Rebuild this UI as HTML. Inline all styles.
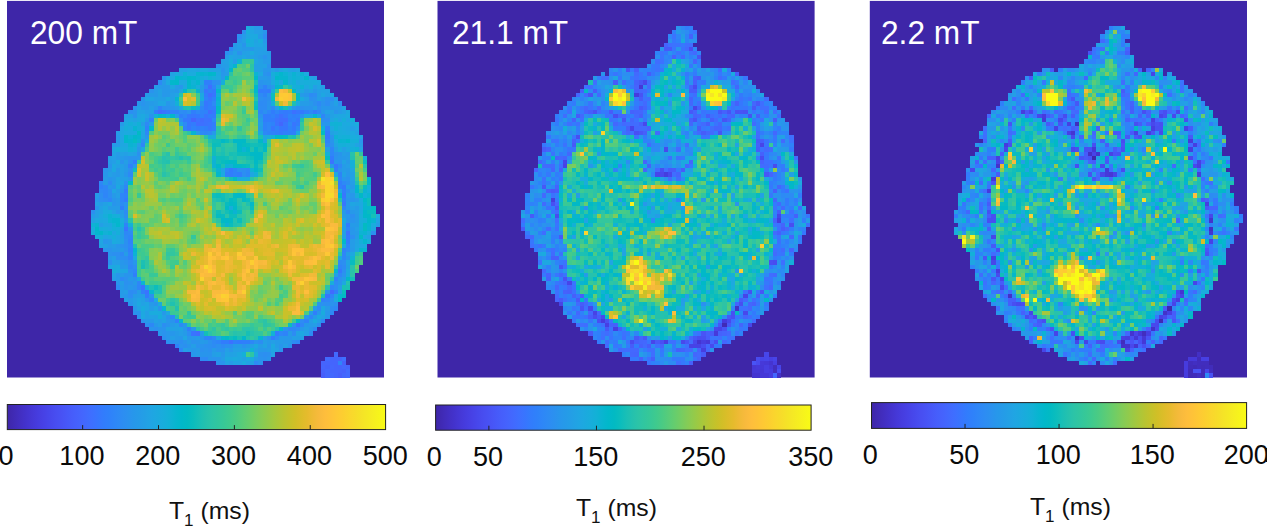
<!DOCTYPE html>
<html><head><meta charset="utf-8"><title>T1 maps</title>
<style>
html,body{margin:0;padding:0;background:#fff;}
body{width:1267px;height:526px;position:relative;overflow:hidden;font-family:"Liberation Sans",sans-serif;}
.pn{position:absolute;display:block;overflow:hidden;}
.ttl{position:absolute;color:#fff;white-space:nowrap;transform-origin:0 0;line-height:1;}
.tl{position:absolute;color:#0a0a0a;font-size:25px;line-height:1;white-space:nowrap;transform:translateX(-50%);}
.xl{position:absolute;color:#111;line-height:1;white-space:nowrap;transform-origin:0 0;}
.xl sub{font-size:69%;vertical-align:baseline;position:relative;top:0.41em;}
</style></head><body>
<svg class="pn" style="left:7px;top:0px;width:377px;height:378px" viewBox="-0.00000 -0.21508 90.00000 90.33457" preserveAspectRatio="none"><rect x="0" y="0" width="90" height="90" fill="#3e26a8"/><g transform="translate(0,0.5)" shape-rendering="crispEdges" fill="none" stroke-width="1"><path stroke="#465efb" d="M75 89h1"/><path stroke="#4660fb" d="M79 89h1"/><path stroke="#4562fc" d="M80 86h1M76 87h1M75 88h1M80 88h1"/><path stroke="#4564fd" d="M75 86h1M78 87h2M81 87h1M79 88h1"/><path stroke="#4465fd" d="M44 28h1M77 85h3M76 86h3M75 87h1M77 88h2M78 89h1"/><path stroke="#4367fd" d="M65 29h1M77 87h1M76 88h1M76 89h1M80 89h1"/><path stroke="#4368fe" d="M80 87h1M77 89h1"/><path stroke="#426afe" d="M76 85h1M81 89h1"/><path stroke="#416bfe" d="M77 69h1M78 84h1M81 88h1"/><path stroke="#406dfe" d="M36 26h1M46 28h1"/><path stroke="#3f6eff" d="M48 22h1M48 26h1M65 28h2M45 29h1M45 79h1"/><path stroke="#3e70ff" d="M48 20h1M46 29h1M80 85h1"/><path stroke="#3c71ff" d="M68 26h1M65 27h1M45 28h1M48 28h1M69 77h1M53 81h1"/><path stroke="#3b73fe" d="M47 28h1M64 28h1M47 29h1M64 29h1M77 38h1M81 55h1M33 69h1"/><path stroke="#3974fe" d="M37 26h1M32 68h1M76 70h1M44 79h1"/><path stroke="#3876fe" d="M47 21h1M47 27h1M48 29h1M66 29h1M68 29h1M80 46h1M80 48h1"/><path stroke="#3677fe" d="M49 22h1M48 23h1M47 24h1M49 26h1M69 26h1M44 27h1M43 28h1M43 29h1M43 30h1M48 30h1M63 30h1M65 30h2M76 32h1M28 54h1"/><path stroke="#3579fd" d="M49 21h1M66 27h1M69 28h1M65 31h1M78 39h1M81 56h1"/><path stroke="#337afd" d="M47 25h1M66 26h1M70 26h1M43 27h1M45 27h1M64 27h1M42 28h1M68 30h1M76 31h1M53 40h1M80 44h1M79 64h1"/><path stroke="#327cfc" d="M62 21h1M38 26h1M73 26h1M49 27h1M63 28h1M44 29h1M28 45h1M33 70h1M64 79h1M51 81h1"/><path stroke="#317dfc" d="M60 21h1M47 22h1M48 24h1M35 26h1M63 26h1M65 26h1M67 26h1M48 27h1M61 27h2M61 28h2M49 29h1M69 29h1M45 30h1M77 37h1M30 38h1M53 41h1M28 47h1M81 53h1M81 57h1M63 80h1M52 81h1M55 81h1"/><path stroke="#307ffb" d="M47 19h2M61 21h1M48 25h2M44 26h1M47 30h1M64 31h1M78 40h1M55 41h1M79 43h1M80 45h1M73 74h1M56 81h1"/><path stroke="#2f80fa" d="M48 21h1M41 27h1M68 27h1M67 28h1M49 30h1M66 31h3M52 41h1M80 47h1M27 49h1M30 65h1M32 69h1M78 69h1M43 78h1M54 81h1M57 81h1"/><path stroke="#2f82fa" d="M47 23h1M49 23h1M39 26h1M47 26h1M71 26h1M46 27h1M63 27h1M69 27h1M34 28h1M68 28h1M44 30h1M64 30h1M63 31h1M29 57h1M29 59h1M75 71h1M40 76h1M48 80h1M40 82h1"/><path stroke="#2e83f9" d="M61 20h1M40 26h1M61 29h1M63 29h1M33 30h1M42 30h1M46 30h1M61 30h1M67 30h1M76 30h1M76 33h1M29 39h1M54 40h1M54 41h1M22 44h1M79 44h1M28 46h1M78 66h1"/><path stroke="#2e84f8" d="M61 22h1M36 25h1M46 26h1M67 27h1M62 31h1M79 41h1M28 53h1M80 59h1M29 61h1M71 76h1M66 79h1M47 80h1M79 86h1"/><path stroke="#2e86f8" d="M49 20h1M64 26h1M62 29h1M77 36h1M79 42h1M23 46h1M27 46h1M27 47h1M29 56h1M29 58h1M81 58h1M29 60h1M80 60h1M79 63h1M31 68h1M77 70h1M34 71h1M50 81h1"/><path stroke="#2e87f7" d="M45 26h1M62 26h1M74 26h1M75 27h1M62 30h1M32 34h1M77 35h1M52 40h1M28 44h1M23 45h1M24 47h1M81 54h1M28 55h1M30 64h1M79 65h1M31 67h1M77 68h1M76 71h1M72 75h1M70 77h1M67 78h2M65 79h1M69 81h1M41 83h1"/><path stroke="#2d88f6" d="M46 25h1M60 26h1M42 27h1M67 29h1M47 31h1M61 31h1M57 41h1M22 43h1M23 44h1M80 49h1M81 50h1M80 61h1M29 63h1M78 73h1M75 76h1M34 77h1M73 78h1M58 81h1"/><path stroke="#2d8af5" d="M53 11h1M36 19h1M47 20h1M49 24h1M74 24h1M63 25h1M72 26h1M49 28h1M33 29h1M69 30h1M33 31h1M46 31h1M79 39h1M57 40h1M29 41h1M80 43h1M22 45h1M27 60h1M74 73h1M77 74h1M39 75h1M49 80h1M49 81h1M47 85h1"/><path stroke="#2d8bf4" d="M60 22h1M72 22h1M60 24h1M42 26h1M42 29h1M48 31h1M76 34h1M24 43h1M29 55h1M28 56h1M81 59h1M27 66h1M26 68h1M77 73h1M41 77h1M64 80h1M51 82h1M46 85h1M59 86h1"/><path stroke="#2d8cf3" d="M61 8h1M61 23h1M61 24h1M60 25h2M23 47h1M27 48h1M28 50h1M29 62h1M79 62h1M80 63h1M78 67h1M29 69h1M70 76h1M69 78h1M68 79h1M72 79h1M68 81h1M49 82h1"/><path stroke="#2c8ef2" d="M55 8h1M49 19h1M73 22h1M77 23h1M76 24h1M29 26h1M41 26h1M41 28h1M56 40h1M56 41h1M24 45h1M24 46h1M28 61h1M30 63h1M29 64h1M78 68h1M29 70h1M37 77h1M43 79h1M41 81h1M60 81h1"/><path stroke="#2c8ff1" d="M60 20h1M60 23h1M74 25h1M76 28h1M81 45h1M22 46h1M22 47h1M82 56h1M28 58h1M26 60h1M27 61h1M80 62h1M30 69h1M76 72h1M33 77h1M37 80h1M61 84h1"/><path stroke="#2b90f0" d="M52 12h1M62 17h1M62 23h1M76 23h1M79 24h1M69 25h1M61 26h1M29 38h1M29 40h1M55 40h1M28 43h1M81 43h1M20 50h1M28 51h1M82 51h1M28 57h1M25 60h1M26 61h1M24 62h1M80 64h1M78 72h1M74 77h1M35 78h1M38 81h2M42 82h1M48 82h1M52 82h2"/><path stroke="#2b91ef" d="M56 7h1M50 15h1M37 18h1M50 19h1M62 20h1M72 23h1M73 24h1M37 25h1M70 25h1M75 28h1M32 33h1M77 34h1M31 36h1M78 36h1M87 55h1M28 66h1M28 67h1M34 70h1M77 71h1M75 72h1M48 81h1M47 82h1M50 82h1M67 82h1M46 83h1M48 83h1M60 84h1M62 84h1M61 85h1"/><path stroke="#2a93ee" d="M55 12h1M61 13h1M62 15h1M34 21h1M62 22h1M73 23h1M62 24h1M75 24h1M30 25h1M38 25h1M43 26h1M60 27h1M70 27h1M81 42h1M28 48h1M28 49h1M27 58h1M28 59h1M24 60h1M29 67h1M77 72h1M30 74h1M31 75h1M32 76h1M37 79h1M62 80h1M44 81h1M59 81h1M41 82h1M45 82h1M56 82h1M50 83h1M65 83h1M49 85h1M60 85h1M50 86h1M60 86h1"/><path stroke="#2994ed" d="M61 7h1M61 17h1M60 19h1M32 24h1M71 25h2M30 26h1M30 27h1M34 27h1M84 33h1M29 37h2M78 37h1M27 38h1M79 38h1M23 40h1M79 40h1M25 44h1M27 45h1M81 47h1M82 52h1M23 59h2M28 62h1M29 65h1M80 65h1M79 66h1M28 68h1M30 68h1M33 71h1M31 74h1M39 76h1M38 77h1M68 77h1M37 78h1M66 78h1M40 81h1M42 81h1M46 82h1M47 83h1M51 83h1M48 84h1M50 85h1M51 86h1"/><path stroke="#2895ec" d="M56 10h1M51 16h1M32 23h1M46 24h1M62 25h1M78 26h1M76 29h1M77 32h1M77 33h1M79 36h1M24 39h1M24 42h1M25 47h1M82 47h1M25 48h1M21 49h1M81 52h1M81 61h1M28 65h1M30 66h1M26 67h1M79 67h1M76 69h1M29 72h1M35 72h1M74 72h1M36 73h1M38 75h1M34 78h1M36 78h1M72 78h1M46 80h1M45 81h1M43 82h1M65 82h1M46 84h2M48 85h1M62 85h1"/><path stroke="#2797eb" d="M55 9h1M61 9h1M61 16h2M61 19h1M71 22h1M75 23h1M38 24h1M35 25h1M68 25h1M75 25h3M76 27h1M33 32h1M28 37h1M31 37h1M79 37h1M78 38h1M23 41h1M28 41h1M80 42h1M21 47h1M81 49h1M81 51h1M29 54h1M82 54h1M23 57h1M26 58h1M27 62h1M30 62h1M26 65h1M28 70h1M74 74h1M76 74h1M76 75h1M42 77h1M36 79h1M38 79h2M38 80h1M41 80h1M43 80h1M44 83h1M44 84h1"/><path stroke="#2798ea" d="M60 6h1M58 11h1M53 12h1M51 17h1M62 18h1M41 20h1M37 22h1M31 24h1M72 24h1M77 24h1M33 25h1M39 25h1M75 26h1M75 29h1M26 32h1M30 39h1M81 41h1M29 42h1M24 44h1M82 46h1M26 48h1M81 48h1M26 50h1M80 50h1M28 52h1M82 55h1M26 59h1M29 68h1M30 73h1M38 76h1M42 78h1M44 80h1M66 80h2M66 81h1M62 82h1M53 83h1M61 83h1M51 84h1"/><path stroke="#2699e9" d="M64 16h1M62 19h1M37 20h1M37 21h2M40 21h1M73 21h1M38 22h1M33 24h1M32 25h1M78 25h2M33 28h1M26 33h1M31 35h1M80 37h1M26 40h1M26 41h1M25 42h1M26 47h1M82 50h1M83 52h1M25 59h1M27 63h1M26 66h1M29 66h1M29 71h1M37 74h1M71 75h1M33 76h2M35 77h1M71 77h1M44 78h1M70 78h1M40 80h1M65 80h1M47 81h1M67 81h1M45 83h1M60 83h1"/><path stroke="#269ae8" d="M59 6h1M54 10h1M56 11h1M62 12h1M61 14h1M36 20h1M38 20h1M63 20h1M46 21h1M35 22h1M27 29h1M84 34h1M26 37h1M81 38h1M28 39h1M81 40h1M23 42h1M23 43h1M25 43h1M27 44h1M82 44h1M25 46h1M81 46h1M83 47h1M83 51h1M24 58h1M27 59h1M82 59h1M24 61h1M28 63h1M30 67h1M27 70h1M34 72h1M76 73h1M67 79h1M57 82h1M49 83h1M45 84h1"/><path stroke="#259be8" d="M60 8h1M54 11h1M57 11h1M60 13h1M62 13h1M62 14h1M51 18h1M61 18h1M37 19h1M35 21h1M34 22h1M70 22h1M34 24h1M79 26h1M45 31h1M49 31h1M25 34h1M81 36h1M27 37h1M24 38h1M77 39h1M24 40h1M28 40h1M21 46h1M22 48h1M83 49h1M20 51h1M82 53h2M83 55h1M24 57h1M27 68h1M27 69h1M73 73h1M73 75h1M39 77h1M72 77h1M40 79h1M42 79h1M46 79h1M45 80h1M43 81h1M46 81h1M62 81h1M64 81h2M54 82h1M43 83h1M62 83h1M59 85h1"/><path stroke="#259ce7" d="M56 8h1M52 13h1M54 14h1M51 15h1M52 17h1M60 18h1M35 20h1M40 20h1M46 20h1M39 21h1M33 22h1M78 23h1M70 24h2M40 25h1M73 25h1M60 28h1M60 30h1M26 31h1M26 34h1M26 36h1M24 37h1M81 37h1M80 39h1M80 40h1M25 41h1M26 45h1M24 49h3M27 50h1M83 50h1M80 51h1M88 53h1M82 57h1M25 58h1M82 58h1M28 60h1M27 65h1M80 66h1M31 69h1M30 70h1M55 82h1M60 82h1M64 82h1M51 85h1M53 86h1"/><path stroke="#249ee6" d="M56 9h1M61 10h1M55 11h1M61 12h1M51 14h1M52 15h1M75 20h1M71 21h1M74 22h1M74 23h1M35 24h1M39 24h1M33 26h2M40 27h1M32 29h1M34 29h1M78 35h1M80 36h1M28 38h1M82 43h1M81 44h1M83 56h1M81 60h1M26 62h1M25 66h1M27 67h1M79 68h1M28 69h1M31 70h2M28 71h1M34 73h1M72 74h1M36 76h1M72 76h1M73 77h1M71 78h1M39 80h1M69 80h2M44 82h1M66 82h1M56 83h1M49 84h1"/><path stroke="#249fe6" d="M59 7h2M60 12h1M59 13h1M42 16h1M63 16h1M68 16h1M73 18h1M73 20h1M74 21h1M39 22h1M64 25h1M31 34h1M25 38h1M81 39h1M26 46h1M82 49h1M21 50h1M27 51h1M22 53h1M83 54h1M27 56h1M25 61h1M25 62h1M30 71h1M74 76h1M36 77h1M40 77h1M41 79h1M71 79h1M68 80h1M61 81h1M63 81h1M58 82h1M42 83h1M52 83h1"/><path stroke="#23a0e5" d="M55 10h1M59 11h2M56 12h1M57 13h1M60 14h1M52 16h1M76 22h1M35 23h1M37 23h1M34 25h1M80 26h1M28 27h1M60 29h1M82 30h1M80 35h1M28 36h1M25 37h1M27 39h1M27 40h1M24 41h1M27 41h1M27 42h2M21 48h1M21 51h1M80 54h1M27 55h1M80 55h1M30 72h1M33 74h1M61 80h1M54 83h2"/><path stroke="#22a1e4" d="M61 11h1M59 12h1M55 13h1M52 14h1M59 15h2M41 16h1M59 16h2M36 21h1M36 22h1M36 23h1M39 23h1M78 24h1M31 25h1M80 25h1M77 26h1M29 27h1M77 27h1M77 31h1M83 31h1M76 35h1M80 41h1M82 41h1M82 45h1M23 48h1M22 49h1M20 52h1M80 56h1M23 58h1M25 65h1M78 65h1M32 71h1M33 75h1M35 75h1M38 78h3M59 83h1M64 83h1M50 84h1M53 84h1M56 85h1M57 86h2"/><path stroke="#22a2e4" d="M54 12h1M57 12h1M54 13h1M58 13h1M61 15h1M48 16h3M65 16h1M67 16h1M39 17h1M72 21h1M75 21h2M71 23h1M31 26h2M76 26h1M41 29h1M84 32h1M27 36h1M30 36h1M26 39h1M82 42h1M22 50h1M25 50h1M88 52h1M86 56h1M27 57h1M81 63h1M79 69h1M32 72h1M31 73h1M34 75h1M37 75h1M35 76h1M69 79h1M57 83h1M63 84h1M52 86h1M55 86h1"/><path stroke="#21a3e3" d="M58 6h1M59 9h1M45 16h1M33 27h1M30 28h1M83 34h1M84 35h1M25 36h1M80 38h1M26 42h1M26 43h1M83 48h1M80 53h1M27 54h1M83 57h1M22 58h1M75 75h1M37 76h1M41 78h1M61 82h1M52 84h1M54 84h1M54 86h1"/><path stroke="#20a5e3" d="M58 7h1M59 10h1M69 16h1M41 17h1M38 18h1M72 18h1M40 22h1M33 23h1M37 24h1M78 27h1M28 28h1M79 28h1M81 28h1M27 30h1M83 30h1M27 32h1M32 32h1M27 33h1M29 36h1M51 40h1M27 43h1M25 45h1M79 45h1M23 56h1M83 58h1M81 62h1M24 63h1M78 70h1M31 71h1M42 80h1"/><path stroke="#1fa6e2" d="M60 10h1M53 13h1M56 13h1M59 14h1M43 16h1M46 19h1M50 20h1M74 20h1M34 23h1M36 24h1M31 27h1M77 28h1M32 31h1M69 31h1M78 34h1M25 35h1M82 40h1M58 41h1M82 48h1M84 49h1M23 53h1M22 57h1M27 64h2M33 72h1M33 73h1M35 73h1M63 83h1"/><path stroke="#1ea7e1" d="M57 8h1M44 16h1M41 21h1M75 22h1M72 27h1M79 27h2M29 28h1M82 29h1M27 31h1M78 31h1M61 32h1M27 34h1M25 39h1M78 41h1M24 48h1M23 49h1M22 51h1M87 54h1M26 56h1M75 73h1M70 79h1"/><path stroke="#1da8e0" d="M50 17h1M63 18h1M41 19h2M63 19h1M69 19h1M39 20h1M42 20h1M71 20h1M70 21h1M46 22h1M77 22h1M38 23h1M81 26h1M74 27h1M31 28h1M81 30h1M28 34h1M81 35h1M26 38h1M25 40h1M26 44h1M84 48h1M84 50h1M22 52h1M24 53h1M25 55h1M24 56h1M85 56h1M26 57h1M83 59h1M82 60h1M79 61h1M25 63h1M31 66h1M80 67h1M32 74h1M50 80h1M55 84h1M52 85h2M55 85h1"/><path stroke="#1da9e0" d="M58 8h1M46 16h1M60 17h1M71 17h1M38 19h1M65 19h1M32 27h1M80 29h1M77 30h1M82 31h1M61 33h1M88 51h1M21 52h1M23 52h1M80 52h1M84 58h2M26 64h1M81 64h1M31 72h1M38 74h1M32 75h1M59 82h1M63 82h1"/><path stroke="#1caadf" d="M59 8h1M58 12h1M47 16h1M66 16h1M39 18h1M50 18h1M74 19h1M67 25h1M71 27h1M32 28h1M28 29h1M80 30h1M28 31h2M60 31h1M81 31h1M32 35h1M79 35h1M51 41h1M55 42h1M24 54h1M30 61h1M26 63h1M35 71h1M78 71h1M74 75h1M73 76h1M59 84h1M56 86h1"/><path stroke="#1babde" d="M57 6h1M57 10h1M40 17h1M44 17h1M47 18h1M69 21h1M69 24h1M41 25h1M81 27h1M30 29h1M81 29h1M29 30h1M30 31h1M62 32h1M78 33h1M27 35h2M84 47h1M23 50h1M27 52h1M25 57h1M34 74h1M36 74h1M54 85h1M57 85h1"/><path stroke="#1aacdd" d="M58 9h1M60 9h1M58 10h1M53 14h1M43 17h1M46 23h1M70 23h1M83 29h1M32 30h1M80 31h1M49 32h1M82 32h2M82 34h1M56 42h2M24 50h1M87 53h1M20 54h1M80 58h1M81 65h1M32 73h1M35 74h1M75 74h1M58 85h1"/><path stroke="#19addb" d="M67 19h1M70 19h1M72 19h2M45 20h1M63 21h1M78 28h1M79 30h1M79 31h1M48 32h1M81 34h1M26 35h1M83 46h1M84 51h1M84 52h1M23 54h1M20 55h1M86 55h1M25 64h1M77 67h1M36 72h1"/><path stroke="#17aeda" d="M57 7h1M53 15h1M63 17h1M67 17h1M69 17h1M49 18h1M71 19h1M68 20h1M72 20h1M63 24h1M80 28h1M28 30h1M79 32h1M33 33h1M79 34h1M30 35h1M86 45h1M53 49h1M23 51h1M26 51h1M84 53h1M22 54h1M26 54h1M21 56h2M25 56h1M86 57h1M36 75h1"/><path stroke="#15afd9" d="M46 18h1M51 19h1M69 20h1M38 27h1M82 28h1M29 29h1M82 33h2M82 35h1M82 39h1M86 44h1M85 46h1M27 53h1M26 55h1M84 57h1M33 68h1"/><path stroke="#14b0d8" d="M57 9h1M67 18h1M70 18h1M50 22h1M40 24h1M31 30h1M63 32h1M80 32h2M80 34h1M85 37h1M82 38h1M59 41h1M25 51h1M85 52h1M29 53h1M25 54h1M84 54h1M56 84h1"/><path stroke="#12b1d6" d="M48 18h1M69 18h1M68 19h1M45 25h1M31 29h1M77 29h1M79 29h1M78 30h1M29 35h1M76 36h1M49 37h1M53 39h1M23 55h1M63 79h1"/><path stroke="#10b2d5" d="M44 19h1M64 19h1M35 27h1M78 29h1M75 30h1M30 34h1M83 35h1M58 40h1M20 53h1M25 53h1M82 61h1M58 83h1"/><path stroke="#0db3d4" d="M55 14h1M42 17h1M59 17h1M64 17h1M66 17h1M45 18h1M68 18h1M70 20h1M50 24h1M29 32h1M78 32h1M56 35h1M49 38h1M49 39h1M52 39h1M24 52h1M84 55h1M30 60h1"/><path stroke="#0bb3d2" d="M47 17h1M68 17h1M70 17h1M42 18h1M44 20h1M31 33h1M80 33h1M29 34h1M50 40h1M85 45h1M86 46h1M54 50h1M24 51h1M21 53h1M52 53h1M24 55h1M85 55h1M32 67h1"/><path stroke="#08b4d1" d="M45 17h1M41 18h1M50 23h1M30 30h1M44 31h1M79 33h1M85 48h1M87 52h1M86 54h1M85 59h1M34 69h1"/><path stroke="#06b5cf" d="M46 17h1M66 18h1M45 21h1M40 23h1M37 27h1M31 32h1M85 49h2M25 52h1M85 57h1M30 59h1M78 64h1M79 70h1M37 73h1M60 80h1"/><path stroke="#05b6ce" d="M54 15h1M65 18h1M45 19h1M73 27h1M29 33h1M26 52h1M86 53h1M21 55h1M84 59h1M41 76h1M51 80h1"/><path stroke="#03b7cc" d="M49 17h1M65 17h1M40 18h1M44 18h1M39 19h1M66 19h1M43 20h1M64 20h1M50 21h1M59 21h1M65 25h1M81 33h1M83 44h1M26 53h1M80 57h1"/><path stroke="#02b7ca" d="M53 16h1M48 17h1M52 18h1M71 18h1M43 19h1M59 20h1M42 21h1M69 23h1M36 27h1M39 27h1M28 32h1M30 32h1M28 33h1M59 40h1M50 41h1M83 45h1M55 46h1M85 50h1M86 52h1M22 55h1M81 66h1M56 80h1"/><path stroke="#01b8c9" d="M43 18h1M64 18h1M40 19h1M34 30h1M54 33h1M55 34h1M60 36h1M50 39h1M54 39h1M86 42h1M86 43h1M79 46h1M58 48h1M54 49h1M85 51h1M52 52h1M21 54h1M65 78h1"/><path stroke="#01b9c7" d="M59 18h1M65 32h1M51 33h1M55 33h1M55 35h1M57 35h1M61 35h1M58 36h1M53 38h1M55 39h1M56 46h1M85 47h1M52 49h1M87 49h1M51 52h1M52 80h1"/><path stroke="#01b9c6" d="M64 32h1M56 33h1M60 33h1M61 34h1M59 36h1M59 37h2M59 38h1M84 46h1M53 48h1M86 51h1M79 71h1M69 76h1"/><path stroke="#02bac4" d="M68 21h1M69 22h1M31 31h1M59 35h1M54 38h1M54 46h1M56 47h1M53 52h1M84 56h1M80 70h1"/><path stroke="#03bbc2" d="M50 25h1M52 38h1M29 43h1M53 47h1M54 48h1M53 50h1M85 53h1"/><path stroke="#05bbc1" d="M65 20h1M50 26h1M75 31h1M66 32h1M30 33h1M56 34h1M76 37h1M56 39h1M59 39h1M54 42h1M50 51h1M85 54h1M54 80h1"/><path stroke="#08bcbf" d="M59 25h1M57 34h1M57 36h1M51 38h1M85 38h1M85 44h1M52 48h1M58 49h1M86 50h2M51 51h1M82 62h1M67 77h1"/><path stroke="#0abdbd" d="M63 23h1M52 33h1M49 34h1M55 36h2M57 39h1M50 46h1M54 47h1M57 47h1M55 50h1M55 52h1M53 53h1M80 69h1"/><path stroke="#0dbdbc" d="M63 22h1M59 24h1M44 25h1M50 34h1M60 34h1M50 37h2M51 47h1M86 47h1M86 48h1M50 50h1M53 51h2M35 68h1"/><path stroke="#10beba" d="M50 33h1M49 35h1M49 36h1M58 37h1M30 40h1M60 40h1M49 46h1M51 46h1M51 53h1M53 80h1"/><path stroke="#13beb8" d="M59 22h1M66 25h1M49 33h1M58 34h2M52 37h1M50 38h1M60 38h1M52 50h1M82 66h1M47 79h1"/><path stroke="#17bfb6" d="M60 35h1M53 36h1M57 37h1M53 42h1M87 51h1M32 63h1M57 79h1"/><path stroke="#1ac0b5" d="M59 19h1M67 20h1M60 32h1M68 32h1M51 36h1M54 36h1M54 37h1M51 39h1M80 68h2M75 70h1M55 80h1"/><path stroke="#1dc0b3" d="M68 24h1M42 25h1M70 28h1M58 38h1M50 47h1M52 47h1M55 49h1M32 62h1"/><path stroke="#20c1b1" d="M51 35h1M41 37h1M49 40h1M57 48h1M54 53h1M34 68h1M39 72h1M40 75h1"/><path stroke="#22c1af" d="M43 25h1M67 32h1M48 33h1M53 33h1M57 33h1M58 35h1M50 36h1M82 37h1M38 38h1M57 38h1M83 43h1M52 46h1M58 50h1M30 58h1M36 68h1M36 69h1M40 73h1"/><path stroke="#25c2ae" d="M59 33h1M54 34h1M37 37h1M53 37h1M56 37h1M37 38h1M85 39h1M79 47h1M54 52h1M55 53h1M31 54h1M81 67h1M35 69h1M43 77h1M64 78h1M57 80h1"/><path stroke="#27c2ac" d="M41 22h1M59 23h1M54 35h1M38 36h1M82 36h1M58 39h1M60 39h1M37 41h1M60 41h1M84 45h1M49 47h1M55 48h1M51 50h1M83 60h1M54 79h1M58 79h1"/><path stroke="#29c3aa" d="M50 31h1M47 32h1M58 33h1M51 34h1M43 37h1M55 37h1M55 47h1M29 52h1M82 63h1M82 64h1M76 68h1M57 78h1M59 80h1"/><path stroke="#2bc3a8" d="M43 21h1M50 30h1M43 31h1M53 46h1M49 51h1M52 51h1M55 51h1M82 65h1M61 76h1M61 77h1M45 78h1M56 78h1M48 79h1M55 79h1"/><path stroke="#2cc4a6" d="M58 15h1M53 17h1M53 35h1M52 36h1M38 37h1M58 42h1M70 44h1M58 47h1M50 52h1M33 62h1M39 71h1"/><path stroke="#2ec4a4" d="M58 16h1M56 32h1M40 37h1M56 38h1M57 46h1M51 48h1M56 49h1M49 50h1M49 78h1M56 79h1"/><path stroke="#2fc5a3" d="M50 27h1M50 35h1M52 35h1M36 38h1M37 39h1M79 60h1M33 63h1M59 79h1M58 84h1"/><path stroke="#30c5a1" d="M55 30h1M33 34h1M61 36h1M84 36h1M42 37h1M70 39h1M77 40h1M49 48h1M38 60h1M43 74h1M62 77h1M52 78h1M58 78h1M53 79h1"/><path stroke="#32c69f" d="M70 30h1M52 34h1M40 36h1M37 40h1M38 41h1M52 42h1M49 49h1M57 49h1M56 52h1M44 56h1M39 60h1M33 61h1M77 66h1M38 72h1M40 72h1M60 79h1"/><path stroke="#33c79d" d="M70 29h1M50 32h1M39 37h1M48 37h1M48 38h1M55 38h1M56 51h1M31 56h1M60 76h1M62 79h1M58 80h1"/><path stroke="#35c79b" d="M52 20h1M66 20h1M44 21h1M53 21h1M41 24h1M55 32h1M48 34h1M53 34h1M37 36h1M56 48h1M51 49h1M39 59h1M78 63h1M51 77h1M58 77h1"/><path stroke="#36c899" d="M56 26h1M57 28h1M36 37h1M43 38h1M83 42h1M31 55h1M31 59h1M84 60h1M38 61h1M34 65h1M43 75h1M51 78h1M54 78h1M61 78h1M49 79h1"/><path stroke="#38c896" d="M56 14h3M54 19h1M61 37h1M31 38h1M76 38h1M69 39h1M39 40h1M69 44h1M31 46h1M31 53h1M31 64h1M35 65h1M40 71h1M39 74h1M63 77h1M59 78h1"/><path stroke="#3ac994" d="M51 20h1M53 20h1M64 21h1M45 22h1M51 32h2M38 34h1M62 34h1M41 41h1M56 50h1M41 51h1M32 54h1M38 59h1M39 63h1M31 65h1M74 71h1M44 75h1M48 78h1"/><path stroke="#3cc992" d="M45 24h1M68 39h1M35 40h1M40 42h1M58 46h1M32 60h1M40 60h1M32 61h1M31 62h1M40 62h1M34 67h1M40 74h1"/><path stroke="#3eca90" d="M51 31h1M40 35h1M35 38h1M39 38h1M36 39h1M38 39h1M85 40h1M69 41h1M73 41h1M84 44h1M49 52h1M56 53h1M83 61h1M35 67h1M65 68h1M35 70h1M68 76h1M50 77h1M57 77h1M53 78h1M55 78h1M63 78h1"/><path stroke="#40ca8d" d="M53 18h2M50 28h1M42 31h1M40 38h1M61 38h1M34 39h1M47 39h1M38 40h1M39 42h1M43 42h1M78 42h1M71 43h1M32 59h1M31 60h1M39 62h1M83 62h1M31 63h1M32 66h1M37 67h1M65 70h1M38 71h1M42 75h1M62 76h1M48 77h1M56 77h1M59 77h1M50 79h1"/><path stroke="#42ca8b" d="M45 23h1M56 25h1M52 30h2M57 32h1M62 33h1M41 36h1M35 37h1M41 38h1M40 39h1M36 41h1M39 41h1M59 42h1M30 54h1M32 56h1M39 73h1M60 77h1M46 78h1"/><path stroke="#45cb89" d="M57 29h1M47 38h1M41 40h1M37 42h1M50 48h1M61 48h1M50 49h1M58 51h1M57 52h1M50 53h1M32 55h1M30 56h1M33 60h1M34 63h1M33 64h1M36 67h1M36 70h1M64 72h1M57 84h1"/><path stroke="#48cb86" d="M56 15h1M55 18h1M52 19h2M55 19h1M58 21h1M55 31h1M69 32h1M75 32h1M34 36h1M42 36h1M48 36h1M35 39h1M48 39h1M71 39h1M42 41h1M49 41h1M38 42h1M69 43h1M57 50h1M57 51h1M41 52h1M84 61h1M34 64h1M83 64h1M66 69h1M49 76h1"/><path stroke="#4bcb84" d="M54 20h1M40 28h1M54 32h1M33 35h1M47 37h1M42 38h1M36 40h1M69 40h2M36 42h1M68 43h1M29 47h1M37 47h1M42 51h1M30 53h1M33 56h1M44 57h1M32 58h2M31 61h1M34 66h1M65 71h1M73 72h1M38 73h1M71 74h1M60 75h1M59 76h1M49 77h1M52 77h1M55 77h1M50 78h1"/><path stroke="#4ecc81" d="M57 16h1M41 23h1M56 29h1M42 32h1M71 38h1M48 40h1M40 41h1M43 41h1M70 41h1M83 41h1M69 42h1M85 43h1M39 47h3M31 57h1M34 58h1M33 59h1M40 59h1M79 59h1M39 61h1M42 62h1M62 72h1M57 75h1M52 79h1M61 79h1"/><path stroke="#51cc7f" d="M55 15h1M56 16h1M55 17h1M58 17h1M56 27h1M56 30h1M56 31h1M42 33h1M47 33h1M34 40h1M40 40h1M71 40h1M73 42h1M29 44h1M40 51h1M30 57h1M38 62h1M84 62h1M37 68h1M37 69h1M66 70h1M63 76h1M45 77h1"/><path stroke="#54cc7c" d="M59 26h1M34 31h1M37 32h1M75 33h1M37 35h1M43 35h1M32 36h1M34 37h1M70 38h1M39 39h1M43 39h1M83 39h1M50 42h1M72 42h1M29 46h1M45 47h1M33 53h1M53 54h1M37 70h1M64 71h1M57 74h2M52 76h1M60 78h1M62 78h1"/><path stroke="#57cc7a" d="M56 18h3M54 21h1M57 27h1M59 27h1M41 30h1M59 31h1M48 35h1M35 36h1M46 39h1M72 39h1M72 41h1M71 42h1M36 47h1M79 48h1M46 49h1M32 50h1M41 50h1M42 52h1M41 53h1M37 61h1M34 62h1M32 64h1M33 66h1M38 66h1M54 74h1M58 75h1"/><path stroke="#5acc77" d="M54 16h1M64 24h1M56 28h1M52 31h1M53 32h1M39 33h1M43 34h1M41 35h1M43 40h1M72 40h1M35 43h1M50 45h1M65 49h1M32 53h1M30 55h1M38 58h2M40 61h1M32 65h1M37 66h1M33 67h1M41 72h1M72 73h1M42 76h1M64 77h1M47 78h1M51 79h1"/><path stroke="#5ecc74" d="M54 17h1M51 21h1M51 30h1M54 30h1M46 32h1M59 32h1M39 34h1M39 36h1M62 36h1M44 38h1M72 38h1M41 39h1M35 41h1M71 41h1M42 42h1M38 43h1M31 44h1M36 44h1M71 44h1M29 45h1M38 47h1M40 48h1M31 50h1M29 51h1M35 51h1M34 52h2M32 57h1M43 57h1M36 58h1M33 65h1M77 65h1M35 66h2M39 66h1M38 67h1M75 69h1M37 72h1M42 73h1M41 74h1M58 76h1"/><path stroke="#61cd72" d="M52 24h1M55 25h1M55 26h1M55 27h1M58 28h1M50 29h1M53 29h1M54 31h1M37 33h1M47 34h1M38 35h2M62 35h1M36 36h1M83 37h1M46 38h1M42 39h1M66 39h1M42 40h1M47 40h1M68 40h1M30 41h1M51 42h1M49 43h1M64 43h1M70 43h1M60 46h1M46 48h1M72 48h2M41 49h1M51 54h1M54 54h1M58 55h1M42 63h1M61 67h1M60 69h1M42 74h1M43 76h1M45 76h1"/><path stroke="#64cd6f" d="M57 19h1M52 21h1M57 30h1M38 32h1M41 32h1M44 34h1M44 36h1M83 38h1M49 42h1M65 43h1M47 44h1M31 45h1M41 46h1M29 48h1M37 48h1M41 48h1M45 48h1M59 48h1M73 49h1M29 50h1M67 50h1M73 50h1M34 53h1M52 54h1M31 58h1M35 58h1M37 60h1M66 68h1M61 75h1M47 76h1M44 77h1M46 77h1"/><path stroke="#67cd6c" d="M55 16h1M56 17h1M36 33h1M46 33h1M36 34h1M42 35h1M47 36h1M73 36h1M34 38h1M74 41h1M72 43h1M35 44h1M42 45h1M70 45h2M39 46h1M67 48h1M66 49h1M36 51h1M43 51h1M42 53h1M45 55h1M45 57h1M35 64h1M39 64h1M40 66h1M76 66h1M65 69h1M37 71h1M56 74h1M56 75h1"/><path stroke="#6bcd69" d="M35 28h1M55 28h1M59 29h1M41 31h1M36 35h1M43 36h1M84 37h1M68 38h1M44 42h1M47 43h1M84 43h1M37 44h1M68 44h1M55 45h1M42 46h1M44 46h1M67 47h1M39 48h1M71 49h1M64 51h1M36 52h1M44 55h1M40 58h1M38 63h1M41 63h1M39 65h1M39 67h1M60 68h1M60 70h1M36 71h1M59 71h1M41 73h1M63 75h1M48 76h1"/><path stroke="#6ecd66" d="M57 15h1M55 20h1M53 24h1M59 28h1M53 31h1M40 34h2M44 37h1M84 38h1M61 39h1M61 41h1M85 41h1M41 42h1M60 42h1M30 44h1M72 44h1M32 46h1M32 47h1M34 49h1M36 49h1M62 49h1M39 52h1M43 56h1M34 57h1M83 63h1M76 65h1M61 69h1M62 71h1M43 72h1M44 74h1M62 75h1M56 76h1M64 76h2"/><path stroke="#72cd64" d="M57 17h1M58 19h1M55 29h1M36 31h1M70 31h1M38 33h1M41 33h1M43 33h2M35 34h1M42 34h1M83 36h1M45 38h1M83 40h1M48 42h1M65 42h1M44 43h1M67 43h1M73 43h1M41 45h1M36 46h2M40 46h1M30 47h1M66 48h1M70 49h1M35 50h1M64 50h1M66 50h1M37 53h1M45 56h1M33 57h1M64 66h1M39 70h1M59 70h1M42 72h1M63 72h1M65 72h1M60 74h1M54 75h1M70 75h1M54 77h1M65 77h1"/><path stroke="#76cc61" d="M58 20h1M58 22h1M71 30h1M38 31h1M37 34h1M45 36h1M67 39h1M70 42h1M37 43h1M43 43h1M69 45h1M38 48h1M59 49h1M33 50h1M40 50h1M62 50h1M72 50h1M31 52h1M39 53h1M41 54h1M36 57h1M43 58h1M37 59h1M36 65h2M62 66h1M64 68h1M67 68h1M43 73h1M55 75h1M55 76h1"/><path stroke="#79cc5e" d="M51 25h1M38 28h1M37 31h1M72 34h1M62 37h1M69 38h1M61 40h1M66 42h2M85 42h1M44 45h1M46 45h1M49 45h1M31 47h1M48 48h1M65 50h1M43 52h1M40 54h1M79 56h1M35 57h1M41 57h1M41 61h1M62 67h1M65 67h1M76 67h1M61 68h1M41 71h1M41 75h1M47 77h1M66 77h1"/><path stroke="#7dcc5b" d="M54 26h1M40 32h1M71 33h1M45 34h1M35 35h1M44 35h1M45 37h1M35 42h1M61 42h1M68 42h1M51 43h1M66 43h1M38 44h1M42 44h1M43 45h1M68 45h1M30 46h1M42 47h1M62 48h1M38 49h1M67 49h1M63 50h1M32 51h1M39 51h1M40 52h1M36 53h1M33 54h1M58 54h1M43 55h1M41 62h1M35 63h1M42 65h1M41 66h1M61 66h1M62 68h1M58 69h1M47 75h1"/><path stroke="#81cc59" d="M55 21h1M57 21h1M53 23h1M58 27h1M59 30h1M71 32h1M74 35h1M46 37h1M33 38h1M46 40h1M66 40h1M73 40h1M31 43h1M36 43h1M48 43h1M30 45h1M56 45h1M46 47h1M61 47h1M72 47h1M31 48h1M72 49h1M34 50h1M39 50h1M68 50h1M32 52h1M58 52h1M38 53h1M45 54h1M33 55h1M37 58h1M43 63h1M42 64h1M64 67h1M41 69h1M38 70h1M58 70h1M63 71h1M59 74h1M51 76h1M57 76h1M53 77h1"/><path stroke="#84cc56" d="M54 23h1M51 24h1M55 24h1M39 28h1M52 29h1M58 32h1M47 35h1M71 36h1M33 37h1M72 37h1M76 39h1M44 40h1M68 41h1M31 42h1M56 43h1M61 43h1M41 44h1M36 45h1M46 46h1M48 46h1M45 49h1M36 50h1M48 50h1M70 50h1M33 51h2M66 51h1M35 53h1M40 53h1M42 54h1M79 57h1M34 59h1M36 59h1M41 59h1M34 61h1M37 62h1M43 62h1M78 62h1M38 68h1M60 71h1M61 72h1M45 74h1M67 76h1"/><path stroke="#88cb53" d="M52 25h1M57 25h1M71 28h1M35 30h1M57 31h1M40 33h1M67 33h1M75 34h1M46 36h1M72 36h1M42 43h1M67 44h1M48 47h1M59 47h1M73 47h1M29 49h1M39 49h1M38 50h1M42 50h2M30 52h1M43 54h2M42 55h1M42 56h1M47 56h1M49 56h1M36 64h1M38 65h1M67 67h1M40 69h1M67 69h1M46 76h1M53 76h1"/><path stroke="#8bcb51" d="M57 20h1M44 22h1M51 22h1M53 22h1M54 25h1M35 29h1M35 31h1M39 32h1M43 32h1M45 32h1M72 32h1M35 33h1M45 33h1M72 35h2M75 36h1M44 39h1M65 39h1M74 40h1M84 40h1M34 43h1M37 45h1M54 45h1M72 46h1M60 47h1M32 48h1M71 48h1M31 49h1M33 49h1M30 50h1M79 50h1M33 52h1M65 52h1M45 53h1M39 54h1M55 54h1M57 54h1M70 54h1M42 57h1M46 57h1M41 58h1M34 60h2M41 65h1M42 66h1M59 69h1M62 69h1M61 73h1M61 74h1M46 75h1M48 75h1M44 76h1M50 76h1"/><path stroke="#8fcb4e" d="M51 23h1M67 24h1M53 25h1M53 26h1M54 28h1M54 29h1M58 29h1M36 32h1M44 32h1M34 35h1M33 36h1M71 37h1M67 41h1M39 43h1M73 44h1M32 45h1M73 45h1M38 46h1M42 48h1M44 48h1M30 49h1M37 49h1M68 49h1M74 49h1M63 51h1M68 51h1M48 52h1M46 55h1M35 59h1M37 63h1M60 65h1M62 65h1M43 66h1M39 69h1M61 70h1M67 70h1M44 73h1M59 73h1M65 73h1M64 74h1M68 75h1"/><path stroke="#93ca4b" d="M56 20h1M52 23h1M58 24h1M58 25h1M72 28h1M74 29h1M37 30h1M39 30h1M58 30h1M71 31h1M68 33h1M70 33h1M34 34h1M69 36h1M62 40h1M65 40h1M48 41h1M32 42h1M63 42h1M32 43h1M50 43h1M55 43h1M57 43h1M33 44h1M44 44h1M46 44h1M38 45h1M43 46h1M45 46h1M30 48h1M65 48h1M70 48h1M32 49h1M35 49h1M61 49h1M44 51h1M62 52h1M64 52h1M64 53h1M72 54h1M58 56h1M40 57h1M57 57h1M38 64h1M61 65h1M53 66h1M63 66h1M41 67h1M75 68h1M64 69h1M62 70h1M64 70h1M58 71h1M67 71h1M59 72h1M64 73h1M52 74h1M59 75h1"/><path stroke="#96ca48" d="M71 29h1M69 33h1M66 34h1M71 34h1M69 37h1M73 39h1M44 41h1M47 41h1M64 44h1M72 45h1M47 46h1M33 47h1M63 47h1M36 48h1M60 48h1M79 49h1M62 51h1M70 51h1M63 52h1M68 52h1M65 53h1M34 56h1M48 56h1M39 57h1M44 58h2M35 61h1M64 64h1M43 65h1M59 68h1M38 69h1M40 70h1M63 70h1M58 73h1M53 74h1M45 75h1"/><path stroke="#9ac946" d="M52 26h1M74 28h1M39 31h1M65 33h1M45 35h1M67 38h1M32 41h1M62 41h1M62 43h1M35 45h1M44 47h1M35 48h1M68 48h1M40 49h1M63 49h1M71 50h1M69 54h1M71 54h1M70 56h1M48 57h1M73 57h1M46 58h1M42 59h1M36 62h1M36 63h1M65 66h1M44 67h1M53 67h1M41 68h1M63 68h1M63 69h1M74 70h1M66 71h1M46 74h1"/><path stroke="#9dc943" d="M56 21h1M55 23h1M51 26h1M57 26h1M34 32h1M70 32h1M67 34h1M71 35h1M66 36h1M70 36h1M45 39h1M30 42h1M33 43h1M63 43h1M40 44h1M68 46h1M66 47h1M34 48h1M47 48h1M74 48h1M43 49h1M46 50h1M31 51h1M46 51h1M65 51h1M69 51h1M46 54h1M59 54h1M64 54h1M57 55h1M70 55h1M40 67h1M42 68h1M41 70h1M42 71h1M60 72h1M57 73h1M62 73h1"/><path stroke="#a1c840" d="M54 27h1M34 33h1M46 34h1M74 36h1M67 37h1M67 40h1M66 41h1M34 42h1M30 43h1M41 43h1M46 43h1M54 43h1M78 43h1M43 44h1M65 44h1M40 45h1M62 47h1M33 48h1M44 49h1M64 49h1M69 49h1M67 51h1M44 52h1M48 53h1M35 54h1M64 55h1M64 56h1M69 56h1M52 57h1M74 57h1M78 61h1M40 65h1M66 67h1M39 68h1M58 68h1M73 71h1M65 74h1"/><path stroke="#a4c83e" d="M56 19h1M53 28h1M73 32h1M66 33h1M75 35h1M46 41h1M47 42h1M58 43h1M52 45h1M61 46h1M70 47h1M47 49h1M43 53h1M37 55h1M55 55h1M68 56h1M38 57h1M47 57h1M79 58h1M41 60h1M75 64h1M40 68h1M74 69h1M61 71h1M63 73h1M55 74h1M53 75h1"/><path stroke="#a7c73c" d="M55 22h1M57 22h1M68 22h1M74 31h1M73 37h2M32 40h1M64 42h1M45 43h1M60 43h1M34 44h1M66 44h1M45 45h1M66 46h1M34 47h1M43 47h1M60 49h1M38 51h1M45 51h1M48 51h1M71 51h1M79 51h1M46 53h1M61 53h1M62 54h1M38 55h1M41 55h1M72 55h1M41 56h1M54 56h1M73 56h1M37 57h1M42 58h1M41 64h1M43 64h1M63 65h1M74 65h1M66 66h1M51 74h1"/><path stroke="#abc739" d="M54 22h1M58 23h1M68 23h1M58 26h1M66 35h1M64 36h2M63 40h1M45 42h1M62 42h1M74 42h1M53 43h1M48 44h1M63 44h1M65 47h1M71 47h1M64 48h1M42 49h1M59 50h1M57 53h1M62 53h1M70 53h1M38 54h1M56 54h1M49 55h1M54 55h1M63 56h1M53 57h1M40 64h1M72 71h1M58 72h1M66 72h1M52 75h1"/><path stroke="#aec637" d="M52 22h1M38 29h3M72 30h1M40 31h1M58 31h1M35 32h1M70 37h1M63 38h1M33 40h1M34 41h1M64 41h1M84 41h1M45 44h1M67 45h1M33 46h1M35 46h1M73 46h1M68 47h1M63 48h1M45 50h1M47 52h1M67 52h1M47 53h1M72 53h1M36 54h1M48 54h1M63 54h1M35 56h1M46 56h1M36 60h1M36 61h1M44 61h1M35 62h1M65 62h1M63 64h1M76 64h1M53 65h1M72 72h1M62 74h1M50 75h1M64 75h2M69 75h1M66 76h1"/><path stroke="#b1c635" d="M56 24h1M38 30h1M74 32h1M73 34h1M46 35h1M65 35h1M67 36h1M63 37h1M63 39h1M45 40h1M45 41h1M52 43h1M61 44h2M39 45h1M60 45h1M69 46h1M35 47h1M37 50h1M69 50h1M72 51h1M58 53h1M68 53h1M34 54h1M37 54h1M74 54h2M47 55h1M59 55h1M74 56h1M69 57h1M53 58h1M37 64h1M60 64h1M64 65h2M74 66h1M54 67h1M54 68h1M68 71h1M70 73h1M48 74h1M67 75h1M54 76h1"/><path stroke="#b5c533" d="M56 22h1M64 22h1M44 24h1M65 37h2M66 38h1M33 39h1M62 39h1M84 39h1M32 44h1M39 44h1M53 45h1M66 45h1M62 46h1M64 46h1M67 46h1M71 46h1M44 50h1M61 51h1M61 52h1M71 52h1M44 53h1M71 53h1M68 54h1M34 55h1M38 56h2M49 58h1M56 58h1M46 59h1M40 63h1M77 63h1M44 65h1M60 66h1M60 67h1M63 67h1M42 69h1M49 75h1"/><path stroke="#b8c431" d="M54 24h1M37 28h1M37 29h1M73 29h1M36 30h1M72 31h2M73 33h1M65 34h1M63 36h1M75 37h1M84 42h1M40 43h1M49 44h1M51 45h1M61 54h1M65 54h1M63 55h1M67 55h1M69 55h1M71 55h1M36 56h1M56 56h1M67 56h1M72 56h1M49 57h1M56 57h1M71 57h1M51 58h1M64 60h1M44 62h1M77 64h1M75 65h1M44 66h1M68 69h1M57 72h1M71 72h1M55 73h1"/><path stroke="#bbc42f" d="M67 21h1M57 24h1M73 28h1M36 29h1M40 30h1M70 34h1M67 35h1M70 35h1M68 36h1M31 39h1M64 39h1M74 39h1M65 41h1M34 45h1M48 45h1M34 46h1M74 47h1M69 48h1M74 50h1M46 52h1M66 52h1M73 52h1M66 53h1M73 54h1M35 55h1M51 57h1M43 60h1M65 60h1M64 61h1M75 63h1M49 66h1M43 67h1M74 68h1M71 73h1"/><path stroke="#bec32e" d="M74 30h1M64 33h1M72 33h1M68 34h1M63 35h2M68 35h1M68 37h1M73 38h1M32 39h1M75 40h1M33 45h1M65 45h1M74 45h1M43 48h1M73 51h1M59 53h1M74 53h1M47 54h1M39 55h1M56 55h1M37 56h1M71 56h1M63 57h1M45 59h1M77 62h1M63 63h1M70 64h2M75 67h1M42 70h1M50 73h2M51 75h1"/><path stroke="#c1c32c" d="M63 33h1M63 34h1M69 34h1M32 37h1M47 45h1M63 46h1M64 47h1M48 49h1M78 50h1M72 52h1M50 54h1M60 54h1M79 54h1M40 55h1M48 55h1M79 55h1M50 56h1M53 56h1M65 56h1M64 57h2M71 58h1M64 63h1M72 64h1M54 65h1M66 65h1M54 66h1M47 69h1M57 70h1M70 70h1M49 71h1M44 72h1M46 73h1M47 74h1"/><path stroke="#c5c22a" d="M36 28h1M72 29h1M69 35h1M62 38h1M46 42h1M53 44h2M65 46h1M47 50h1M59 51h1M49 53h1M63 53h1M67 53h1M66 54h1M36 55h1M65 55h1M73 55h2M40 56h1M72 57h1M55 58h1M70 58h1M42 61h2M45 61h1M65 61h1M75 66h1M42 67h1M59 67h1M44 68h1M47 70h1M48 72h1M56 72h1M60 73h1M50 74h1M63 74h1"/><path stroke="#c8c129" d="M64 38h1M75 39h1M64 40h1M59 43h1M61 50h1M47 51h1M51 56h1M66 57h1M54 58h1M65 58h1M59 59h1M60 61h1M58 64h1M69 65h1M67 66h1M46 67h1M46 69h1M57 71h1M46 72h1M70 72h1M49 74h1"/><path stroke="#cac129" d="M65 38h1M74 38h1M63 41h1M55 44h1M78 44h1M61 45h1M37 52h1M60 53h1M55 56h1M59 57h1M67 57h1M70 57h1M52 58h1M43 59h1M46 60h1M66 60h1M65 63h1M52 65h1M68 67h1M73 67h1M57 69h1M68 70h1M73 70h1M49 72h1M45 73h1M54 73h1M56 73h1M66 74h2M66 75h1"/><path stroke="#cdc028" d="M42 22h1M43 24h1M74 34h1M64 37h1M33 41h1M33 42h1M47 47h1M75 49h1M69 53h1M60 55h1M78 57h1M66 58h1M54 59h1M64 59h1M42 60h1M61 61h1M45 63h1M70 63h1M73 63h1M62 64h1M68 65h1M52 66h1M48 70h1M46 71h1M66 73h1"/><path stroke="#d0bf27" d="M57 23h1M65 24h1M53 27h1M60 44h1M57 45h1M62 45h1M69 47h1M60 52h1M69 52h1M44 59h1M65 59h1M78 59h1M63 62h1M44 63h1M61 64h1M45 66h1M72 67h1M74 67h1M54 69h1M67 72h1"/><path stroke="#d3bf27" d="M43 23h1M52 27h1M75 38h1M59 46h1M70 46h1M78 48h1M78 49h1M45 52h1M78 52h1M73 53h1M53 55h1M75 55h1M57 56h1M60 56h1M54 57h1M68 57h1M66 59h1M59 60h1M78 60h1M54 64h1M65 64h1M55 66h1M43 68h1M48 69h1M70 71h1M53 73h1"/><path stroke="#d6be28" d="M73 30h1M74 33h1M32 38h1M75 41h1M56 44h1M37 51h1M52 55h1M62 58h1M45 60h1M60 60h1M72 60h1M67 61h1M76 61h1M54 62h2M69 64h1M74 64h1M52 67h1M57 68h1M73 69h1M43 70h1M47 71h1M50 72h1M47 73h1M49 73h1"/><path stroke="#d9be28" d="M76 40h1M77 41h1M74 46h1M77 49h1M30 51h1M38 52h1M75 52h1M67 54h1M50 55h1M68 55h1M55 57h1M52 59h2M62 61h1M64 62h1M75 62h1M69 63h1M45 65h1M71 71h1"/><path stroke="#dbbd29" d="M42 24h1M31 41h1M78 47h1M60 50h1M74 51h1M78 51h1M49 54h1M75 56h1M58 57h1M57 58h1M55 59h1M60 59h1M63 59h1M71 60h1M73 60h1M63 61h1M51 62h1M55 63h1M74 63h1M56 67h1M58 67h1M53 68h1M70 68h1M48 73h1"/><path stroke="#debd29" d="M43 22h1M59 44h1M70 52h1M75 53h1M66 55h1M78 56h1M48 58h1M58 58h1M60 58h1M51 59h1M50 62h1M66 62h1M50 63h1M50 64h1M55 64h1M47 68h1M46 70h1M43 71h1M55 71h1M69 71h1M45 72h1M55 72h1M68 72h1M52 73h1M70 74h1"/><path stroke="#e0bc2b" d="M51 27h1M31 40h1M75 45h1M77 48h1M77 51h1M52 56h1M66 56h1M62 57h1M59 58h1M61 59h1M72 59h1M53 60h1M46 61h1M70 61h1M46 62h1M69 62h2M74 62h1M70 65h1M51 66h1M73 68h1M72 70h1"/><path stroke="#e3bc2c" d="M44 23h1M57 44h1M63 45h1M75 50h1M79 52h1M79 53h1M61 58h1M72 58h1M62 59h1M71 59h1M51 60h1M54 61h1M68 61h1M62 62h1M71 63h1M44 64h1M51 64h1M66 64h1M73 64h1M50 65h1M71 65h1M59 66h1M45 67h1M72 68h1M70 69h1M72 69h1M51 72h1"/><path stroke="#e5bb2d" d="M52 28h1M51 29h1M64 34h1M77 50h1M59 56h1M61 57h1M47 60h1M54 60h1M61 60h3M69 61h1M75 61h1M45 62h1M76 62h1M51 63h1M54 63h1M62 63h1M68 68h1M53 71h1M56 71h1M47 72h1M53 72h1"/><path stroke="#e8bb2f" d="M50 44h1M64 45h1M74 52h1M74 58h1M58 59h1M73 59h1M58 61h1M66 61h1M76 63h1M53 64h1M52 68h1M53 69h1M48 71h1"/><path stroke="#eaba31" d="M74 43h1M59 45h1M76 53h1M62 55h1M50 57h1M47 58h1M63 58h1M67 59h1M67 60h1M77 60h1M57 61h1M71 61h1M47 62h1M53 63h1M72 63h1M55 65h1M47 67h1M49 68h2M67 73h1"/><path stroke="#ecba33" d="M52 44h1M77 52h1M78 55h1M60 57h1M67 58h1M69 58h1M47 59h1M44 60h1M49 60h1M47 61h1M49 62h1M68 62h1M56 63h1M68 64h1M57 65h1M55 67h1M71 67h1M46 68h1M69 68h1M71 68h1M71 70h1M68 73h1"/><path stroke="#efba35" d="M58 44h1M78 45h1M73 58h1M78 58h1M57 59h1M74 60h2M53 61h1M53 62h1M56 62h1M60 63h2M52 64h1M59 65h1M67 65h1M48 66h1M55 68h1M55 70h1M69 70h1M54 72h1"/><path stroke="#f1ba37" d="M66 24h1M51 28h1M51 44h1M76 49h1M61 56h1M64 58h1M68 58h1M56 60h1M77 61h1M52 62h1M52 63h1M58 63h1M45 64h1M59 64h1M73 65h1M47 66h1M68 66h1M69 69h1M56 70h1"/><path stroke="#f3ba38" d="M56 23h1M64 23h1M74 44h1M75 46h1M75 48h1M61 55h1M75 58h1M48 59h1M56 59h1M74 59h1M50 61h1M72 65h1M50 66h1M57 66h1M69 66h2M50 67h2"/><path stroke="#f5ba3a" d="M66 21h1M60 51h1M59 52h1M77 55h1M62 56h1M76 56h1M50 58h1M50 59h1M72 61h1M66 63h1M67 64h1M49 65h1M58 66h1M43 69h1M54 71h1M69 72h1"/><path stroke="#f7ba3c" d="M78 46h1M76 55h1M77 57h1M77 59h1M57 60h2M69 60h1M60 62h1M46 64h1M51 65h1M58 65h1M45 68h1M48 68h1M44 69h1M45 71h1M52 72h1"/><path stroke="#f9bb3d" d="M75 44h1M78 53h1M51 55h1M74 61h1M57 62h1M46 63h1M49 63h1M56 64h1M48 65h1M56 68h1M53 70h2M44 71h1"/><path stroke="#fabb3d" d="M77 53h1M78 54h1M75 57h1M52 60h1M61 62h1M47 65h1M73 66h1M48 67h1M51 68h1M49 69h2M45 70h1"/><path stroke="#fcbc3d" d="M42 23h1M76 51h1M76 52h1M49 59h1M75 59h2M71 62h1M57 63h1M68 63h1M55 69h1M49 70h1M68 74h2"/><path stroke="#fdbd3d" d="M65 21h1M58 45h1M76 50h1M77 56h1M50 60h1M56 66h1M69 67h1M45 69h1M51 69h1M69 73h1"/><path stroke="#febe3c" d="M76 41h1M59 62h1M72 62h1M47 64h1M49 64h1M46 65h1M56 65h1M72 66h1M49 67h1M57 67h1M52 69h1M71 69h1M44 70h1"/><path stroke="#fec03b" d="M77 47h1M70 59h1M49 61h1M55 61h1M48 62h1M59 63h1M50 71h1"/><path stroke="#fec13a" d="M76 48h1M75 51h1M77 54h1M76 57h1M73 61h1"/><path stroke="#fec239" d="M68 59h2M51 61h1M59 61h1M73 62h1M50 70h1"/><path stroke="#fec438" d="M67 22h1M67 23h1M76 58h1M68 60h1M70 60h1M71 66h1"/><path stroke="#fec537" d="M76 54h1M48 61h1M56 61h1M57 64h1M51 71h1"/><path stroke="#fec735" d="M76 60h1M52 61h1M67 62h1M67 63h1M52 71h1"/><path stroke="#fec834" d="M65 22h1M66 23h1M48 63h1"/><path stroke="#feca33" d="M66 22h1M77 58h1M55 60h1"/><path stroke="#fdcb32" d="M75 47h1M48 60h1"/><path stroke="#fdcd32" d="M52 70h1"/><path stroke="#fcce31" d="M65 23h1M77 42h1M58 62h1M56 69h1"/><path stroke="#fcd030" d="M75 43h1M77 44h1M77 45h1M48 64h1M46 66h1M70 67h1"/><path stroke="#fbd22f" d="M51 70h1"/><path stroke="#fbd32e" d="M76 42h1M76 47h1"/><path stroke="#fad52e" d="M76 43h1"/><path stroke="#f9d62d" d="M76 44h1M76 45h1"/><path stroke="#f9d82c" d="M76 46h1M47 63h1"/><path stroke="#f8d92b" d="M77 46h1"/><path stroke="#f6de29" d="M77 43h1"/><path stroke="#f5e327" d="M75 42h1"/></g></svg>
<svg class="pn" style="left:437px;top:0px;width:378px;height:378px" viewBox="-0.11933 -0.21508 90.21480 90.33457" preserveAspectRatio="none"><rect x="0" y="0" width="90" height="90" fill="#3e26a8"/><g transform="translate(0,0.5)" shape-rendering="crispEdges" fill="none" stroke-width="1"><path stroke="#402bb7" d="M68 77h1"/><path stroke="#422ebf" d="M80 87h1M80 88h1"/><path stroke="#4331c8" d="M71 73h1M81 89h1"/><path stroke="#4434d0" d="M79 86h1M75 89h2"/><path stroke="#4535d2" d="M62 81h1"/><path stroke="#4537d5" d="M75 87h1M77 88h1"/><path stroke="#4538d7" d="M48 20h1M78 86h1M77 87h1M79 87h1M75 88h2M77 89h2"/><path stroke="#4639d9" d="M64 81h1M77 86h1M76 87h1"/><path stroke="#463adb" d="M66 79h1"/><path stroke="#463bde" d="M47 22h1M39 76h1M68 76h1M79 88h1"/><path stroke="#463ddf" d="M54 41h1M27 47h1M81 52h1M79 89h1"/><path stroke="#473ee1" d="M63 81h1M63 83h1M78 87h1M78 88h1"/><path stroke="#473fe3" d="M40 77h1M42 78h1M54 81h1M79 85h1M80 86h1"/><path stroke="#4742e6" d="M30 39h1M37 74h1M60 82h3"/><path stroke="#4744e8" d="M73 70h1M29 72h1M77 85h1M80 85h1M81 87h1"/><path stroke="#4745e9" d="M61 25h1M46 30h1M77 34h1M30 38h1M81 51h1M31 67h1M67 78h1"/><path stroke="#4746eb" d="M52 41h1M74 77h1M51 81h1M78 84h1M78 85h1"/><path stroke="#4848ec" d="M49 19h1M49 29h1M53 41h1M36 73h1M73 74h1M39 75h1M66 78h1M58 81h1"/><path stroke="#4849ed" d="M55 41h1M61 81h1"/><path stroke="#484bee" d="M54 35h1M80 39h1M69 76h1M65 82h1M76 85h1M76 86h1"/><path stroke="#484cf0" d="M61 20h1M77 37h1M28 51h1M80 62h1M37 75h1M46 81h1"/><path stroke="#484ef1" d="M60 11h1M42 27h1M33 32h1M53 40h1M84 53h1M62 80h1M81 88h1"/><path stroke="#484ff2" d="M79 62h1M72 72h1M63 80h1M66 81h1M63 82h1"/><path stroke="#4850f3" d="M47 31h1M27 48h1M74 69h1M70 74h1M70 75h1M38 76h1M53 81h1"/><path stroke="#4852f4" d="M45 16h1M37 26h1M71 26h1M73 26h1M74 27h1M44 28h1M30 66h1M40 76h1"/><path stroke="#4853f5" d="M48 22h1"/><path stroke="#4854f6" d="M62 13h1M36 22h1M69 26h1M72 26h1M61 28h1M68 28h1M67 31h1M29 63h1M34 73h1M68 78h1M63 79h1M75 86h1"/><path stroke="#4756f7" d="M48 19h1M77 69h1M67 77h1M61 80h1M59 81h1"/><path stroke="#4757f7" d="M67 26h1M48 31h1M78 41h1M25 44h1M28 49h1M49 80h1"/><path stroke="#4759f8" d="M76 24h1M75 25h1M60 26h1M32 34h1M29 56h1M29 71h1M69 75h1M69 77h1M40 78h1M47 80h1"/><path stroke="#475af9" d="M54 11h2M80 28h1M27 45h1M33 71h1M36 79h1M52 81h1M63 84h1"/><path stroke="#475bfa" d="M62 18h1M42 19h1M48 25h1M41 26h1M33 27h1M76 33h1M55 40h1M81 50h1M22 51h1M20 54h1M38 75h1"/><path stroke="#465dfa" d="M47 16h1M71 17h1M37 21h1M60 21h2M48 23h1M62 30h1M63 31h1M25 35h1M76 35h1M56 40h1M58 40h1M72 71h1M34 72h1M65 79h1M46 82h1"/><path stroke="#465efb" d="M50 17h1M36 26h1M64 27h1M65 28h1M64 29h1M77 33h1M28 45h1M82 54h1M36 75h1M64 80h1M50 82h1M51 85h1"/><path stroke="#4660fb" d="M34 21h1M48 27h1M76 27h1M45 30h1M49 31h1M76 34h1M26 45h1M80 45h1M27 61h1M31 69h1M32 70h1M64 79h1M57 83h1M60 86h1"/><path stroke="#4561fc" d="M60 8h1M61 18h1M47 19h1M61 19h1M47 21h1M71 24h1M62 25h1M60 28h1M69 28h1M32 33h1M77 36h1M85 51h1M81 55h1M28 61h1M26 66h1M34 70h1M42 77h1M43 78h1M47 81h1M48 85h1"/><path stroke="#4562fc" d="M56 13h1M60 20h1M46 26h1M68 26h1M32 28h1M48 29h1M50 39h1M29 40h1M80 52h1M30 69h1M75 72h1M67 79h1M48 82h1M58 83h1"/><path stroke="#4564fd" d="M54 10h1M61 14h1M47 20h1M61 27h1M66 30h1M26 35h1M28 37h1M77 38h1M23 40h1M28 44h1M26 65h1M31 68h1M76 70h1M28 71h1M41 77h1M48 80h1M65 81h1M53 82h1"/><path stroke="#4465fd" d="M60 23h1M49 25h1M35 26h1M47 26h1M61 26h1M43 27h2M70 27h1M50 30h1M67 30h1M30 37h1M49 38h1M60 38h1M57 41h1M79 41h1M80 47h1M82 53h1M84 59h1M28 68h1M71 72h1M73 75h1M72 77h1M68 79h1M60 80h1M62 83h1M47 84h1"/><path stroke="#4367fd" d="M71 20h1M48 21h1M60 24h1M75 24h1M48 26h1M46 28h1M60 29h1M67 29h1M45 31h1M64 31h1M24 38h1M27 40h1M81 44h1M84 56h1M29 65h1M30 67h1M74 72h1M48 81h1M46 84h1M61 84h1M62 85h1M80 89h1"/><path stroke="#4368fe" d="M58 13h1M33 22h1M35 25h1M38 25h1M62 27h1M69 27h1M42 29h1M47 30h1M80 31h1M31 36h1M59 39h1M49 40h1M28 48h1M83 54h1M22 56h1M79 68h1M35 72h1M74 73h1M33 74h1M36 74h1M38 74h1M49 81h1M68 81h1M64 82h1M46 83h2M64 83h1"/><path stroke="#426afe" d="M61 12h1M47 17h1M50 20h1M38 22h1M49 24h1M78 26h1M34 27h1M47 27h1M44 29h1M46 29h1M48 30h1M65 31h1M76 32h1M82 33h1M78 35h1M26 39h1M52 40h1M25 46h1M81 48h1M21 56h1M25 64h1M80 65h1M28 70h1M75 76h1M69 79h1M43 83h1M62 84h1"/><path stroke="#416bfe" d="M59 11h1M67 16h1M49 21h1M78 23h1M67 27h1M66 28h1M63 29h1M75 29h1M49 30h1M52 31h1M62 31h1M76 31h1M29 37h1M25 39h1M27 39h1M57 42h1M25 48h1M82 49h1M86 49h1M28 50h1M80 55h1M82 59h1M27 60h1M80 60h1M30 71h1M73 71h1M33 72h1M49 82h1M59 83h2"/><path stroke="#406dfe" d="M52 14h1M40 18h1M67 18h1M35 22h1M80 26h1M30 27h1M47 29h1M65 30h1M50 34h1M57 35h1M79 35h1M77 39h2M55 42h1M40 79h1M40 81h1M60 81h1M40 82h1M44 83h2"/><path stroke="#3f6eff" d="M60 10h1M39 18h1M47 18h1M44 19h1M50 19h1M70 19h1M36 20h1M61 22h1M77 24h1M77 25h2M38 26h1M65 27h1M45 29h1M46 31h1M29 39h1M54 40h1M56 41h1M20 52h1M28 52h1M84 52h1M26 54h1M25 55h1M27 59h1M30 63h1M79 65h1M29 67h1M74 75h1M70 76h1M35 77h1M44 80h1M50 83h2M51 84h1M57 86h1"/><path stroke="#3e70ff" d="M55 10h1M59 10h1M37 19h1M35 20h1M50 23h1M62 24h1M31 26h1M81 27h1M34 28h1M77 28h1M31 29h1M84 32h1M59 34h1M85 37h1M78 38h2M84 50h1M22 58h1M24 58h1M80 59h1M82 62h1M78 68h1M28 69h1M75 71h1M73 73h1M33 77h2M39 77h1M39 80h1M67 80h1M56 81h1M50 85h1"/><path stroke="#3c71ff" d="M60 12h1M53 14h1M69 30h1M44 31h1M47 32h1M55 37h1M25 42h1M83 45h1M81 53h1M88 53h1M28 54h1M81 54h1M81 57h1M29 60h1M78 66h1M79 67h1M32 68h1M32 69h1M73 69h1M33 70h1M35 73h1M35 75h1M67 76h1M69 80h2M52 82h1"/><path stroke="#3b73fe" d="M61 7h1M56 8h1M56 10h2M53 12h1M57 12h1M52 16h1M59 19h1M49 23h1M72 23h1M48 24h1M70 24h1M34 25h1M36 25h1M40 27h1M47 28h1M33 29h1M28 33h1M84 33h1M30 34h1M77 35h1M27 36h1M57 37h1M81 37h1M25 43h1M27 46h1M80 49h1M24 62h1M30 62h1M39 79h1M44 79h1M62 79h1M45 81h1M55 81h1M59 82h1"/><path stroke="#3974fe" d="M58 11h1M53 13h1M74 23h1M36 24h1M31 25h1M47 25h1M70 25h1M63 26h1M70 26h1M28 28h1M41 28h1M43 29h1M62 29h1M66 29h1M26 32h1M63 32h1M27 33h1M78 33h1M26 49h1M81 56h1M82 60h1M30 65h1M72 73h1M33 75h1M41 80h1M69 81h1M61 85h1M50 86h1"/><path stroke="#3876fe" d="M56 11h1M52 15h1M42 17h1M48 17h1M73 18h1M60 22h1M73 25h1M66 26h1M75 26h1M66 27h1M49 28h1M62 28h1M63 30h1M32 32h1M64 32h1M80 32h1M78 34h1M31 35h1M79 39h1M82 40h1M80 41h1M29 42h1M22 44h1M88 51h1M28 53h1M80 53h1M86 56h1M81 60h1M28 65h1M79 66h1M32 67h1M30 68h1M76 72h1M32 73h1M41 76h1M41 78h1M72 78h1M41 79h1M71 79h1M65 80h2M50 81h1M42 82h1M53 83h1"/><path stroke="#3677fe" d="M60 15h1M46 16h1M51 17h1M43 18h1M46 18h1M48 18h1M49 22h1M47 23h1M72 24h1M40 26h1M49 26h1M45 27h1M25 34h1M32 35h1M78 36h1M60 39h1M78 40h1M82 44h1M82 55h1M87 55h1M22 57h1M81 59h1M28 67h1M30 70h1M32 75h1M76 75h1M36 76h1M70 77h1M46 85h1"/><path stroke="#3579fd" d="M56 9h1M58 10h1M53 16h1M67 17h1M71 19h1M46 20h1M50 25h1M76 25h1M34 26h1M43 26h1M41 27h1M63 27h1M42 28h1M42 30h1M68 30h1M76 30h1M61 31h1M58 37h1M76 37h1M78 37h1M26 41h1M79 44h1M79 46h1M28 47h1M27 50h1M84 51h1M81 58h1M23 59h1M29 62h1M25 65h1M78 67h1M35 71h1M31 74h1M34 75h1M72 75h1M32 76h1M56 85h1M58 85h1M58 86h1"/><path stroke="#337afd" d="M54 12h1M51 15h1M51 16h1M59 17h1M49 18h1M68 18h1M63 19h1M72 22h1M72 25h1M39 26h1M64 26h2M75 28h1M81 30h1M49 32h1M33 33h1M80 33h1M84 35h1M29 36h1M25 38h1M57 40h1M80 42h1M28 43h1M83 47h1M80 48h1M83 51h1M20 53h1M26 59h1M84 60h1M79 63h1M76 69h1M31 71h1M78 72h1M75 74h1M71 75h1M73 78h1M38 81h1M56 82h1M66 82h1M47 85h1M57 85h1"/><path stroke="#327cfc" d="M60 7h1M69 16h1M61 17h1M50 21h1M73 23h1M32 24h1M47 24h1M71 25h1M42 26h1M28 29h1M32 29h1M43 30h1M77 31h1M29 38h1M82 39h1M24 41h1M82 45h1M86 46h1M85 47h1M83 48h1M21 50h1M26 51h1M21 55h1M23 58h1M25 58h1M80 58h1M80 61h1M31 66h1M38 77h1M73 77h1M45 79h1M42 81h1M56 83h1M53 84h1"/><path stroke="#317dfc" d="M59 6h1M61 23h1M60 25h1M77 26h1M28 27h1M68 27h1M78 27h1M76 29h1M44 30h1M64 30h1M66 31h1M28 34h1M80 38h1M28 41h1M79 43h1M27 49h1M82 51h1M87 52h1M84 54h1M29 66h1M29 68h1M80 70h1M61 79h1M38 80h1M47 82h1M67 82h1M49 83h1"/><path stroke="#307ffb" d="M56 7h1M57 13h1M38 18h1M62 19h1M71 21h1M50 24h1M46 27h1M72 27h1M67 28h1M33 30h1M30 33h1M26 37h1M27 38h1M81 39h1M84 49h1M24 55h1M28 56h1M27 57h1M83 57h1M28 59h1M78 70h1M76 71h1M36 72h1M33 73h1M75 75h1M37 77h1M43 79h1M45 82h1M44 84h1"/><path stroke="#2f80fa" d="M58 12h1M60 13h1M62 14h1M59 18h1M62 20h1M61 24h1M37 25h1M49 27h1M80 29h1M25 37h1M27 42h1M21 46h1M23 51h1M80 51h1M24 52h1M83 55h1M27 56h1M86 57h1M29 69h1M29 70h1M31 70h1M32 71h1M38 79h1M43 82h1M51 86h1"/><path stroke="#2f82fa" d="M60 6h1M57 9h1M62 15h1M43 16h1M49 16h2M41 17h1M69 17h1M38 21h1M74 22h1M31 24h1M73 24h1M78 24h1M33 25h1M69 25h1M74 25h1M60 27h1M81 31h1M49 33h1M84 34h1M26 40h1M81 42h1M28 46h1M23 47h2M21 48h2M23 50h1M80 56h1M30 59h1M26 61h1M26 63h1M27 68h1M78 73h1M34 74h1M71 76h1M37 79h1M42 80h1M68 80h1M58 82h1M59 84h1M49 85h1M59 86h1"/><path stroke="#2e83f9" d="M52 12h1M55 13h1M61 16h1M43 17h1M66 18h1M45 19h1M71 23h1M29 26h2M33 26h1M73 27h1M76 28h1M30 29h1M33 31h1M59 31h1M82 31h2M80 34h1M25 36h1M30 36h1M81 38h1M29 41h1M81 41h1M24 43h1M26 43h1M21 47h1M57 47h1M85 48h1M80 50h1M25 52h1M28 58h1M82 58h1M81 61h1M81 67h1M76 73h1M35 78h1M39 78h1M41 81h1"/><path stroke="#2e84f8" d="M59 8h1M59 9h1M56 12h1M54 14h1M49 17h1M46 19h1M59 20h1M34 23h1M62 23h1M39 24h1M80 25h1M77 27h1M31 28h1M64 28h1M69 29h1M80 30h1M79 31h1M50 33h1M27 35h1M30 35h1M42 40h1M51 41h1M80 43h1M82 52h1M87 54h1M29 57h1M28 62h1M82 63h1M29 64h1M30 73h1M37 73h1M38 78h1M44 78h1M69 78h1M72 79h1M43 80h1M45 80h1M52 86h1"/><path stroke="#2e86f8" d="M55 8h1M61 11h1M52 17h1M37 20h1M73 22h1M46 25h1M79 25h1M76 26h1M36 27h1M68 29h1M83 32h1M26 34h1M29 34h1M51 34h1M52 39h1M24 40h1M83 40h1M28 42h1M23 48h1M26 48h1M83 49h1M83 52h1M22 53h1M86 54h1M74 70h1M72 74h1M66 77h1M37 80h1M45 84h1"/><path stroke="#2e87f7" d="M58 6h1M57 8h1M62 12h1M41 16h1M48 16h1M73 19h1M76 21h1M34 22h1M55 22h1M29 27h1M29 28h1M45 28h1M61 29h1M65 29h1M30 32h1M59 35h1M79 36h1M23 44h1M79 45h1M21 49h1M25 54h1M27 55h1M83 58h1M29 59h1M83 61h1M26 64h1M82 65h1M26 68h1M34 76h1M74 76h1M71 78h1"/><path stroke="#2d88f6" d="M54 13h1M53 15h1M66 16h1M60 17h1M66 17h1M45 20h1M70 20h1M73 21h1M32 23h1M76 23h2M35 24h1M79 24h1M81 26h1M27 29h1M29 30h1M60 30h1M29 33h1M79 33h1M57 34h1M60 36h1M31 37h1M43 39h1M54 39h1M25 40h1M25 41h1M27 44h1M81 49h1M51 52h1M24 53h1M28 55h1M70 73h1M75 73h1M74 74h1M47 79h1M57 81h1M42 83h1M50 84h1"/><path stroke="#2d8af5" d="M61 13h1M55 14h1M70 18h1M36 21h1M74 21h1M39 25h1M62 26h1M74 26h1M43 28h1M68 31h1M78 31h1M28 32h1M52 34h1M54 34h1M81 40h1M82 46h1M84 47h1M82 48h1M27 54h1M82 57h1M24 61h1M80 63h1M81 64h1M27 65h1M78 65h1M27 67h1M72 70h1M31 73h1M71 77h1M42 79h1M48 83h1M55 85h1"/><path stroke="#2d8bf4" d="M61 8h1M59 13h1M60 14h1M46 17h1M68 17h1M51 18h1M49 20h1M59 27h1M31 31h1M58 31h1M59 32h1M57 33h1M82 34h2M51 35h2M80 36h1M58 42h1M80 44h1M81 45h1M84 46h1M85 50h1M21 52h1M85 59h1M26 60h1M29 61h1M76 74h1M73 76h1M46 80h1M59 80h1M51 82h1M53 86h1M55 86h1"/><path stroke="#2d8cf3" d="M59 7h1M59 12h1M65 16h1M50 18h1M72 18h1M72 20h1M75 22h1M50 27h1M71 27h1M83 29h1M28 30h1M77 32h1M51 33h1M60 35h1M50 38h1M53 38h2M55 39h1M23 42h1M86 45h1M83 46h1M84 48h1M87 50h1M87 51h1M23 52h1M23 54h1M68 75h1M50 80h1M54 85h1M56 86h1"/><path stroke="#2c8ef2" d="M52 13h1M51 14h1M45 17h1M71 22h1M37 24h1M30 25h1M63 28h1M70 28h1M27 32h1M54 33h1M83 33h1M31 34h1M79 37h1M45 38h1M28 39h1M56 42h1M23 43h1M81 43h1M23 46h1M84 57h1M29 58h1M82 64h1M80 66h1M77 68h1M73 72h1M70 79h1M40 80h1M61 83h1M53 85h1"/><path stroke="#2c8ff1" d="M44 17h1M58 17h1M74 20h1M35 23h1M63 25h1M31 27h1M79 32h1M55 33h1M56 35h1M28 40h1M82 43h1M82 47h1M24 56h1M30 58h1M24 59h1M83 59h1M32 74h1M56 84h1M58 84h1"/><path stroke="#2b90f0" d="M54 15h1M41 19h1M38 20h1M62 21h1M39 22h1M40 24h1M35 27h1M26 31h1M69 31h1M31 33h1M28 35h2M59 36h1M23 41h1M54 42h1M79 42h1M24 44h1M26 46h1M25 47h1M25 49h1M26 53h1M29 55h1M84 55h1M82 61h1M79 64h1M26 67h1M74 71h1M63 72h1M35 76h1M37 76h1M65 78h1M59 85h1"/><path stroke="#2b91ef" d="M60 9h2M50 15h1M63 16h1M64 17h1M60 19h1M75 20h1M39 21h1M33 23h1M39 23h1M75 23h1M45 26h1M79 27h1M33 28h1M48 28h1M81 28h1M27 30h1M50 32h1M57 39h1M51 40h1M82 41h1M82 42h1M25 45h1M24 46h1M81 46h1M24 51h1M22 52h1M23 53h1M23 56h1M23 57h1M85 58h1M25 61h1M25 63h1M80 67h1M79 71h1M52 85h1"/><path stroke="#2a93ee" d="M57 6h1M53 11h1M55 12h1M45 18h1M65 18h1M73 20h1M76 22h1M34 24h1M53 25h1M80 27h1M79 28h1M83 30h1M29 31h1M29 32h1M28 36h1M83 44h1M80 46h1M86 47h1M35 49h1M27 52h1M25 53h1M85 54h1M28 60h1M84 61h1M81 62h1M28 64h1M27 69h1M32 72h1M30 74h1M34 78h1M65 83h1M57 84h1M60 85h1"/><path stroke="#2994ed" d="M58 7h1M55 9h1M41 18h1M50 22h1M67 25h1M41 29h1M61 30h1M77 30h1M82 30h1M53 34h1M54 37h1M53 39h1M71 48h1M23 49h1M58 49h1M85 52h1M27 58h1M28 63h1M82 66h1M36 77h1M55 83h1M49 84h1M60 84h1"/><path stroke="#2895ec" d="M42 16h1M39 17h1M62 17h2M52 18h1M63 18h1M39 19h2M43 19h1M40 25h1M39 27h1M29 29h1M82 29h1M27 34h1M55 38h1M57 38h1M85 38h1M27 41h1M24 42h1M26 44h1M22 45h1M84 45h2M83 53h1M25 59h1M79 69h1M36 78h1M70 78h1M39 81h1M54 83h1M52 84h1"/><path stroke="#2797eb" d="M57 11h1M44 18h1M39 20h1M58 24h1M74 24h1M32 25h1M54 26h1M58 30h1M48 32h1M58 34h1M55 35h1M81 36h1M24 37h1M51 39h1M50 40h1M26 47h1M81 47h1M20 50h1M83 50h1M21 51h1M86 51h1M85 53h1M22 54h1M27 64h1M78 64h1M80 64h1M81 66h1M52 83h1"/><path stroke="#2798ea" d="M44 16h1M51 19h1M72 19h1M37 22h1M55 24h1M31 30h1M27 31h1M32 31h1M58 36h1M50 37h1M80 37h1M86 42h1M22 43h1M22 47h1M63 47h1M49 48h1M86 50h1M84 58h1M27 62h1M30 64h1M81 65h1M81 68h1M33 69h1M33 76h1M44 81h1"/><path stroke="#2699e9" d="M61 15h1M65 17h1M37 18h1M60 18h1M69 18h1M37 23h1M82 28h1M34 29h1M53 33h1M61 33h1M81 33h1M81 35h1M83 35h1M36 39h1M86 44h1M23 45h1M51 49h1M24 54h1M80 54h1M26 57h1M28 57h1M30 61h1M27 63h1M37 72h1M77 73h1M72 76h1M57 82h1M54 86h1"/><path stroke="#269ae8" d="M40 21h1M45 21h1M33 24h1M81 29h1M50 31h1M78 32h1M38 36h1M28 38h1M22 46h1M24 50h1M50 50h1M23 55h1M25 56h1M79 61h1M81 63h1M71 64h1M77 67h1M30 72h1M35 74h1M52 80h1"/><path stroke="#259be8" d="M57 7h1M59 23h1M46 24h1M75 27h1M30 28h1M34 31h1M82 35h1M26 38h1M31 38h1M26 42h1M43 47h1M27 53h1M25 57h1M35 65h1M31 72h1M77 74h1M49 78h1"/><path stroke="#259ce7" d="M38 23h1M79 26h1M77 29h1M79 30h1M75 32h1M61 34h1M29 43h1M33 46h1M25 50h1M52 51h1M26 52h1M88 52h1M21 53h1M21 54h1M64 63h1M27 66h1M59 70h1M58 71h1M69 74h1M41 83h1"/><path stroke="#249ee6" d="M58 8h1M59 14h1M59 16h1M62 16h1M64 18h1M64 19h1M68 19h1M74 19h1M44 20h1M72 21h1M50 28h1M55 31h1M31 32h1M81 32h1M62 35h1M26 36h1M57 36h1M76 36h1M56 37h1M82 38h1M56 39h1M29 53h1M22 55h1M85 57h1M25 66h1M80 68h1M41 71h1M77 71h1M58 72h1M63 76h1M67 81h1M44 82h1"/><path stroke="#249fe6" d="M71 18h1M38 19h1M57 29h1M34 30h1M26 33h1M56 33h1M79 40h1M53 42h1M24 48h1M64 56h1M24 57h1M75 70h1M77 72h1M31 75h1M48 84h1"/><path stroke="#23a0e5" d="M41 20h1M38 27h1M58 27h1M51 29h1M32 30h1M75 30h1M37 31h1M55 34h1M51 36h1M52 38h1M45 39h1M60 40h1M22 49h1M24 49h1M86 52h1M86 55h1M32 56h1M82 56h1M66 58h1M80 69h1M77 70h1M55 80h1M54 84h1"/><path stroke="#22a1e4" d="M65 19h1M69 19h1M41 25h1M59 25h1M28 31h1M54 32h1M60 32h1M82 32h1M49 37h1M84 41h1M27 43h1M53 46h1M26 50h1M26 55h1M26 56h1M58 61h1M77 65h1M76 67h1M66 76h1M51 80h1M54 82h1"/><path stroke="#22a2e4" d="M64 16h1M54 22h1M38 24h1M45 25h1M78 30h1M53 35h1M70 46h1M77 46h1M55 49h1M86 53h1M61 56h1M26 58h1M83 60h1M83 62h1M83 63h1M83 64h1M61 69h1M71 71h1M63 75h1M46 79h1"/><path stroke="#21a3e3" d="M64 20h1M57 21h1M59 21h1M77 22h1M55 27h1M59 28h1M71 28h1M60 31h1M71 34h1M54 36h1M53 37h1M24 45h1M51 46h1M56 47h1M76 47h1M35 52h1M76 59h1M44 60h1M76 66h1M55 82h1"/><path stroke="#20a5e3" d="M60 16h1M54 20h1M56 20h1M58 20h1M46 21h1M36 23h1M70 23h1M50 26h1M32 27h1M30 31h1M60 34h1M81 34h1M84 36h1M56 38h1M59 40h1M85 46h1M20 51h1M44 59h1M50 60h1M33 61h1M41 62h1M28 66h1M72 69h1M64 78h1"/><path stroke="#1fa6e2" d="M58 14h1M42 18h1M57 28h1M43 31h1M45 32h1M46 33h1M49 34h1M49 35h1M53 36h1M55 36h1M71 36h1M59 37h1M67 39h1M50 41h1M87 49h1M25 51h1M63 51h1M79 52h1M33 59h1M67 60h1M62 65h1M60 67h1M56 69h1M63 73h1M41 82h1"/><path stroke="#1ea7e1" d="M52 19h1M67 19h1M40 20h1M56 22h1M55 25h1M49 36h1M58 39h1M70 39h1M83 39h1M58 41h1M71 44h1M55 48h1M50 51h1M74 54h1M71 55h1M62 56h1M24 60h1M25 62h2M70 66h1M39 72h1"/><path stroke="#1da8e0" d="M55 23h1M63 24h1M58 28h1M78 28h1M58 35h1M58 38h1M78 42h1M54 47h1M44 48h1M50 48h1M51 51h1M83 56h1M85 56h1M63 58h1M70 67h1M64 72h1M44 75h1M37 78h1"/><path stroke="#1da9e0" d="M51 20h1M68 20h1M59 22h1M53 27h1M56 28h1M53 29h1M43 40h1M45 41h1M86 43h1M50 47h1M51 50h1M75 52h1M29 54h1M24 63h1M35 63h1M64 69h1M75 69h1M40 70h1M70 72h1M43 81h1"/><path stroke="#1caadf" d="M56 15h1M70 17h1M63 20h1M69 21h2M62 22h1M53 23h1M54 25h1M59 26h1M80 35h1M50 36h1M52 36h1M61 37h1M59 38h1M49 39h1M74 47h1M73 51h1M80 57h1M38 63h1M38 71h1M64 76h1M57 78h1"/><path stroke="#1babde" d="M57 17h1M32 26h1M55 26h1M37 27h1M72 28h1M37 29h1M78 29h1M55 30h1M56 32h1M38 38h1M60 41h1M34 42h1M47 42h1M65 45h1M52 50h1M65 51h1M70 51h1M29 52h1M55 53h1M87 53h1M61 57h1M69 57h1M43 58h1M25 60h1M62 61h1M72 65h1M69 66h1M77 66h1M62 69h1M58 73h1"/><path stroke="#1aacdd" d="M58 9h1M57 22h1M51 25h1M58 26h1M57 27h1M59 30h1M54 31h1M56 31h1M61 32h1M56 34h1M82 37h1M65 40h1M59 41h1M70 41h1M41 42h1M68 46h1M76 54h1M85 55h1M42 56h1M59 71h1M54 73h1M60 79h1"/><path stroke="#19addb" d="M68 16h1M69 20h1M51 26h1M35 28h1M52 29h1M41 30h1M52 30h1M59 33h1M68 39h1M35 42h1M35 43h1M66 43h1M32 45h1M61 47h1M56 48h1M85 49h1M22 50h1M32 50h1M55 50h1M56 52h1M62 53h1M65 53h1M61 60h1M34 64h1M39 65h1M70 68h1M78 69h1M57 73h1M58 80h1"/><path stroke="#17aeda" d="M56 16h1M55 18h1M46 22h1M54 29h2M34 33h1M48 34h1M75 34h1M74 35h1M60 37h1M36 38h1M51 38h1M83 38h1M37 39h1M30 40h1M45 40h1M31 46h1M86 48h1M57 49h1M37 50h1M54 50h1M76 51h1M61 55h1M63 55h1M70 56h1M40 58h1M74 61h1M31 63h1M33 66h1M63 66h1M40 71h1M62 71h1"/><path stroke="#15afd9" d="M59 15h1M55 19h1M40 22h1M53 28h1M30 30h1M51 30h1M66 36h1M44 37h1M43 38h1M40 41h1M55 43h1M53 48h1M77 48h1M67 49h1M27 51h1M58 51h1M60 52h1M68 52h1M52 60h1M84 62h1M40 68h1M41 73h1M61 73h1M53 78h1"/><path stroke="#14b0d8" d="M75 21h1M51 23h1M59 24h1M73 30h1M62 32h1M52 37h1M40 38h1M65 38h1M61 39h1M39 40h1M72 42h1M83 42h1M31 44h1M85 44h1M51 48h1M49 49h1M56 49h1M56 50h1M67 50h1M74 52h1M67 53h1M67 59h1M79 60h1M70 65h1M62 67h1"/><path stroke="#12b1d6" d="M54 21h1M42 25h1M58 29h1M38 31h1M60 33h1M61 35h1M56 36h1M51 37h1M44 38h1M42 42h1M70 47h1M73 47h1M54 49h1M46 50h1M32 53h1M45 54h1M49 55h1M74 55h1M77 55h1M47 58h1M48 59h1M52 61h1M37 63h1M75 64h1M67 65h1M76 65h1M79 70h1M40 73h1M54 78h1M48 79h1"/><path stroke="#10b2d5" d="M58 33h1M38 35h1M73 36h1M66 37h1M41 39h1M69 44h1M53 45h1M57 48h1M48 49h1M77 50h1M53 51h1M36 53h1M42 53h1M68 53h1M78 53h1M34 55h1M44 58h1M54 58h1M60 58h1M65 58h1M61 59h1M66 60h1M32 63h1M69 65h1M39 69h1M69 70h1M49 73h1M61 75h1M60 78h1"/><path stroke="#0db3d4" d="M53 17h1M56 21h1M50 29h1M40 39h1M62 41h1M69 41h1M29 47h1M49 47h1M54 48h1M76 49h1M49 50h1M60 54h1M68 55h1M60 57h1M32 58h1M70 61h1M36 63h1M42 63h1M65 68h1M75 68h1M43 77h1"/><path stroke="#0bb3d2" d="M56 18h1M66 19h1M70 22h1M52 23h1M38 29h1M65 32h1M75 35h1M67 38h1M43 41h1M51 42h1M29 45h1M52 45h1M50 46h1M34 49h1M38 49h1M31 56h1M60 56h1M63 56h1M74 60h1M43 65h1M34 67h1M40 67h1M69 67h1M69 68h1M74 68h1M71 69h1M35 70h1M65 73h1M45 74h1M55 74h1M48 77h1M54 80h1"/><path stroke="#08b4d1" d="M54 16h1M58 16h1M58 25h1M64 25h1M37 30h1M53 32h1M74 36h1M37 37h1M70 42h1M57 43h2M64 43h1M83 43h1M35 44h1M52 47h1M38 48h1M52 48h1M75 48h1M65 49h1M29 50h1M58 50h1M33 51h1M49 52h1M48 54h1M40 60h1M48 60h1M78 60h1M76 61h1M42 68h1M44 69h1M50 78h1"/><path stroke="#06b5cf" d="M51 21h1M55 21h1M51 22h1M56 27h1M52 32h1M52 33h1M50 35h1M48 36h1M42 38h1M46 38h1M68 38h1M35 41h1M64 41h1M67 41h1M60 43h1M69 45h1M32 51h1M68 51h1M76 52h1M50 59h1M69 63h1M61 71h1M55 73h1M65 77h1M56 79h1"/><path stroke="#05b6ce" d="M58 18h1M54 28h1M48 33h1M41 36h1M72 37h1M85 39h1M73 44h1M43 45h1M67 45h1M58 46h1M62 51h1M52 52h1M78 52h1M35 66h1M63 68h1M54 70h1M51 74h1M65 75h1M51 76h1M59 79h1"/><path stroke="#03b7cc" d="M56 19h1M41 21h1M66 25h1M35 33h1M39 35h1M37 38h1M48 39h1M63 39h1M40 40h1M85 41h1M43 42h1M45 42h1M49 46h1M58 47h1M48 48h1M36 50h1M35 51h1M47 52h1M50 52h1M73 52h1M64 54h1M43 59h1M64 62h1M68 64h1M40 65h1M35 67h1M44 71h1M62 72h1M39 74h1M58 75h1M60 76h1"/><path stroke="#02b7ca" d="M57 14h1M54 24h1M51 32h1M55 32h1M47 33h1M39 34h1M69 38h1M84 43h1M43 44h1M72 49h1M31 50h1M75 50h1M54 51h1M33 52h1M61 52h1M48 53h1M75 54h1M75 56h1M68 60h1M56 68h1M55 70h1M39 71h1M64 71h1M69 71h1M65 74h1M67 75h1M56 80h1"/><path stroke="#01b8c9" d="M58 21h1M45 33h1M40 36h1M70 36h1M44 39h1M35 40h1M65 43h1M78 43h1M41 44h1M39 47h1M45 49h1M53 49h1M29 51h1M49 51h1M55 51h1M77 52h1M35 53h1M70 54h1M73 58h1M53 61h1M41 64h1M34 65h1M38 65h1M42 65h1M63 65h1M37 66h1M64 66h1M71 66h1M74 67h1M39 70h1M34 71h1M66 74h1M62 78h1M53 80h1M57 80h1"/><path stroke="#01b9c7" d="M54 17h1M53 22h1M69 24h1M57 26h1M74 28h1M57 32h2M39 33h1M67 34h1M39 36h1M43 37h1M84 37h1M38 41h1M72 41h1M63 42h1M49 43h1M39 46h1M52 46h1M57 46h1M34 47h1M42 48h1M39 49h1M31 52h1M31 53h1M47 53h1M32 55h1M43 57h1M39 59h1M73 60h1M44 61h1M56 61h1M63 64h1M64 65h1M65 67h1M40 69h1M63 69h1M62 70h1M66 71h1M45 72h1M45 78h1M51 79h1"/><path stroke="#01b9c6" d="M65 25h1M56 26h1M71 29h2M42 36h1M82 36h1M73 37h1M76 38h1M39 39h1M42 39h1M71 40h1M36 42h1M44 42h1M76 42h1M33 43h1M67 43h1M29 44h1M45 45h1M68 45h1M31 47h1M44 47h1M32 48h2M36 48h1M43 49h1M78 50h1M72 51h1M34 52h1M69 53h1M65 54h1M45 56h1M48 57h1M64 60h1M67 61h1M62 63h1M65 63h1M39 66h1M58 67h1M63 67h1M33 68h1M41 70h1M78 71h1M61 72h1M52 77h1M53 79h1"/><path stroke="#02bac4" d="M55 16h1M40 23h1M52 24h1M53 26h1M55 28h1M39 29h1M69 40h1M44 41h1M52 42h1M59 42h1M70 43h1M84 44h1M46 47h1M79 48h1M53 52h1M57 52h1M75 55h2M79 55h1M37 56h1M66 56h1M71 56h1M76 56h1M73 57h1M57 59h1M36 60h1M60 60h1M72 60h1M37 62h1M66 63h1M68 63h1M76 64h1M39 67h1M36 70h1M68 70h1M65 72h1M51 73h1M59 76h1"/><path stroke="#03bbc2" d="M54 19h1M53 20h1M35 21h1M53 21h1M57 25h1M35 29h1M70 29h1M39 30h1M54 30h1M53 31h1M74 32h1M46 35h1M61 36h1M67 36h1M36 37h1M68 37h1M77 40h1M33 41h1M41 41h1M71 41h1M62 42h1M34 44h1M36 44h1M67 44h1M42 45h1M33 47h1M79 47h1M46 49h1M75 49h1M32 52h1M36 52h1M58 52h1M45 53h1M59 53h3M66 53h1M44 55h1M79 57h1M79 59h1M47 60h1M64 61h1M59 62h1M60 63h1M63 63h1M58 70h1M64 74h1M45 76h1M61 78h1"/><path stroke="#05bbc1" d="M52 20h1M53 24h1M37 28h1M56 29h1M44 33h1M34 34h1M63 34h1M69 35h1M27 37h1M39 38h1M73 38h1M66 40h1M76 41h1M39 42h1M46 42h1M67 42h1M38 43h1M29 46h1M64 46h1M76 46h1M50 49h1M37 52h1M64 52h1M52 53h1M34 54h1M48 55h1M74 56h1M71 57h1M41 60h1M74 64h1M40 66h1M36 68h1M62 68h1M67 68h1M72 68h1M37 69h1M64 70h1M56 73h1M71 74h1M42 76h1"/><path stroke="#08bcbf" d="M57 19h1M43 20h1M56 23h1M35 31h1M71 31h1M66 32h1M75 33h1M37 35h1M40 42h1M48 42h1M36 49h1M48 50h1M73 50h1M36 51h1M43 51h1M46 53h1M51 53h1M53 53h1M47 55h1M79 56h1M39 57h1M57 57h1M59 58h1M68 61h1M73 61h1M35 62h1M43 62h2M70 62h1M59 65h1M67 66h1M65 69h1M57 70h1M66 70h1M57 71h1M49 72h1"/><path stroke="#0abdbd" d="M55 17h1M57 23h1M36 30h1M57 30h1M37 33h1M45 37h1M71 39h1M73 39h1M44 40h1M48 47h1M65 47h1M68 47h1M71 47h1M78 49h1M50 53h1M79 53h1M58 54h1M73 54h1M34 56h1M77 56h1M44 57h1M58 57h1M65 57h1M41 61h1M39 62h1M42 62h1M58 63h1M71 63h1M33 64h1M61 64h1M68 65h1M57 66h1M60 66h1M72 66h1M55 68h1M36 69h1M60 70h1M67 71h1M40 72h1M56 72h1M39 73h1M40 75h1M58 77h1M52 78h1"/><path stroke="#0dbdbc" d="M53 18h1M53 19h1M40 28h1M35 34h1M47 35h1M46 37h1M46 39h1M70 40h1M61 41h1M66 42h1M42 43h1M85 43h1M39 44h1M75 44h1M67 47h1M77 47h1M29 48h1M37 48h1M45 48h1M34 50h1M40 50h1M67 51h1M43 52h1M45 55h1M59 55h1M43 56h2M67 56h1M62 59h1M74 59h1M62 62h1M66 62h1M73 65h1M48 72h1M57 72h1M50 74h1M57 74h1M60 74h1"/><path stroke="#10beba" d="M57 15h1M54 23h1M39 28h1M42 31h1M71 35h1M67 37h1M41 38h1M74 38h1M32 40h1M42 44h1M47 45h1M55 52h1M50 54h1M72 55h1M35 57h1M55 58h1M71 59h1M55 60h1M75 60h1M67 62h1M76 62h1M70 63h1M77 63h1M32 66h1M68 68h1M56 70h1M65 70h1M46 71h1M47 73h1M62 73h1M47 74h1M62 74h1M66 75h1M46 77h1M63 78h1"/><path stroke="#13beb8" d="M51 24h1M52 26h1M71 30h1M34 32h1M24 39h1M37 41h1M34 43h1M54 43h1M68 43h1M78 44h1M55 47h1M40 48h1M61 48h1M37 49h1M64 49h1M42 52h1M44 52h1M54 52h1M70 52h1M71 53h1M49 54h1M62 54h1M68 57h1M48 58h1M56 58h1M75 58h1M35 59h1M33 60h1M41 63h1M74 63h1M78 63h1M32 64h1M37 64h1M60 64h1M41 65h1M43 66h1M75 66h1M72 67h1M41 68h1M43 68h1M55 69h1M70 70h2M48 73h1M64 73h1M53 77h1"/><path stroke="#17bfb6" d="M57 20h1M52 27h1M51 28h1M75 31h1M46 32h1M68 32h1M73 32h1M71 33h1M66 34h1M63 36h1M65 36h1M66 38h1M41 40h1M47 40h1M49 41h1M30 42h1M75 42h1M41 43h1M76 43h1M38 44h1M65 44h1M64 45h1M71 45h1M48 46h1M73 46h1M29 49h1M65 52h1M67 52h1M74 53h1M66 54h1M73 55h1M57 58h1M60 59h1M38 60h1M57 60h1M56 62h1M75 62h1M33 63h1M54 63h1M65 64h1M69 64h1M57 65h1M62 66h1M33 67h1M57 67h1M76 68h1M67 70h1M42 71h1M45 71h1M50 76h1M58 78h1M54 79h1M55 84h1"/><path stroke="#1ac0b5" d="M58 19h1M55 20h1M46 23h1M43 25h1M52 25h1M53 30h1M36 33h1M41 33h1M70 35h1M41 37h1M75 37h1M61 38h1M34 39h1M47 39h1M69 39h1M85 40h1M77 41h1M37 42h2M63 44h1M74 44h1M44 45h1M74 46h2M72 47h1M43 48h1M62 48h1M38 50h1M63 52h1M32 54h1M43 54h1M72 54h1M42 57h1M39 58h1M78 58h1M35 60h1M78 61h1M39 63h1M75 63h1M34 66h1M41 66h1M58 66h1M74 66h1M61 68h1M71 68h1M38 69h1M42 69h1M66 69h1M38 70h1M43 70h1M43 75h1M51 77h1M52 79h1"/><path stroke="#1dc0b3" d="M36 19h1M52 21h1M57 24h1M74 29h1M41 31h1M63 33h1M33 34h1M43 35h1M40 37h1M70 38h2M42 41h1M48 41h1M32 43h1M69 43h1M35 46h1M60 46h1M78 48h1M30 49h1M61 50h1M48 51h1M44 53h1M68 54h1M70 55h1M78 55h1M65 56h1M69 56h1M62 57h1M64 57h1M38 58h1M42 58h1M41 59h1M75 59h1M34 60h1M59 60h1M43 61h1M60 61h1M69 61h1M61 62h1M75 65h1M73 66h1M68 67h1M45 69h1M43 76h1M58 76h1M44 77h1M47 78h1"/><path stroke="#20c1b1" d="M56 25h1M54 27h1M57 31h1M43 33h1M64 34h1M73 35h1M47 37h1M71 43h1M77 43h1M50 45h1M41 46h1M35 47h1M42 47h1M76 48h1M32 49h1M77 51h1M45 52h2M75 53h1M77 53h1M31 54h1M67 54h1M51 57h1M41 58h1M51 59h1M65 59h1M70 59h1M37 61h1M61 61h1M73 62h1M33 65h1M60 65h1M65 65h1M36 66h1M64 67h1M41 69h1M42 70h1M60 71h1M42 72h1M47 72h1M51 72h1M60 72h1M52 74h1M54 77h1"/><path stroke="#22c1af" d="M58 15h1M57 18h1M36 31h1M62 34h1M63 35h2M42 37h1M84 38h1M67 40h1M34 41h1M75 43h1M62 44h1M70 44h1M30 45h1M38 45h1M36 47h1M53 47h1M40 49h1M30 50h1M57 50h1M34 51h1M79 51h1M35 54h1M31 55h1M42 55h1M65 55h1M39 56h1M57 56h1M73 56h1M33 58h1M37 59h1M52 59h1M56 59h1M30 60h1M36 61h1M65 61h1M76 63h1M44 68h1M70 69h1M38 73h1M50 73h1M52 73h1M49 74h1M52 75h1M54 75h1M63 77h1M48 78h1"/><path stroke="#25c2ae" d="M57 16h1M36 29h1M59 29h1M35 30h1M44 32h1M69 37h1M84 39h1M34 40h1M32 42h1M49 42h1M47 43h1M56 43h1M61 43h1M63 49h1M41 50h1M74 50h1M76 50h1M49 53h1M58 55h1M35 56h1M40 56h1M40 57h1M66 57h1M54 59h1M65 60h1M71 60h1M60 62h1M67 64h1M36 65h1M66 67h1M59 68h1M66 68h1M73 68h1M60 69h1M36 71h1M65 71h1M43 72h1M66 72h1M53 74h2M58 74h1M50 75h1M53 75h1M57 75h1M64 75h1M61 76h1"/><path stroke="#27c2ac" d="M40 32h1M64 33h1M66 33h1M46 36h1M83 36h1M46 40h1M51 43h1M32 44h1M61 44h1M34 46h1M42 46h1M54 46h2M60 47h1M39 48h1M31 49h1M79 49h1M63 50h1M37 51h1M66 52h1M72 52h1M43 53h1M39 55h1M63 57h1M70 57h1M53 58h1M53 59h1M66 59h1M76 60h1M31 64h1M35 64h1M56 64h1M62 64h1M64 64h1M73 64h1M37 65h1M66 66h1M57 68h1M44 72h1M45 75h1M46 78h1M55 79h1"/><path stroke="#29c3aa" d="M45 24h1M42 32h1M69 34h1M36 40h1M68 41h1M83 41h1M73 42h1M31 43h1M49 45h1M74 45h1M78 45h1M40 46h1M67 48h1M44 49h1M62 49h1M74 49h1M39 50h1M30 52h1M62 52h1M62 55h1M67 55h1M68 56h1M33 57h1M77 57h1M58 58h1M67 58h1M69 60h2M65 62h1M68 62h2M34 63h1M72 63h1M40 64h1M74 65h1M64 68h1M68 71h1M70 71h1M44 76h1M62 76h1M51 78h1M57 79h1"/><path stroke="#2bc3a8" d="M70 31h1M72 31h1M39 32h1M69 33h1M41 35h1M63 38h1M75 38h1M66 39h1M71 42h1M73 43h1M46 45h1M61 45h1M37 46h1M56 46h1M38 47h1M66 48h1M56 51h1M61 51h1M49 59h1M32 61h1M39 61h2M71 61h1M54 62h1M51 63h1M73 63h1M38 64h1M42 67h1M61 67h1M38 68h1M54 68h1M55 72h1M68 73h1M59 75h1M52 76h1M47 77h1"/><path stroke="#2cc4a6" d="M68 24h1M68 25h1M38 30h1M65 33h1M45 34h1M65 35h1M37 36h1M44 36h2M64 36h1M75 36h1M83 37h1M61 40h1M64 40h1M39 41h1M46 41h1M64 42h1M85 42h1M33 44h1M33 45h1M37 45h1M39 45h2M77 45h1M45 47h1M63 48h1M71 51h1M74 51h1M38 53h1M51 54h1M61 54h1M71 54h1M31 57h2M46 58h1M31 59h1M64 59h1M68 59h1M45 60h1M57 61h1M66 61h1M63 62h1M71 62h1M52 63h1M42 64h1M71 67h1M75 67h1M44 74h1M55 75h1"/><path stroke="#2ec4a4" d="M58 23h1M51 27h1M43 32h1M69 32h1M48 37h1M64 37h1M75 39h1M65 41h2M33 42h1M36 43h1M53 43h1M44 46h1M78 46h1M64 48h2M74 48h1M33 49h1M42 49h1M52 49h1M79 50h1M78 51h1M71 52h1M39 53h1M56 53h1M73 53h1M36 55h1M78 56h1M67 57h1M50 58h2M58 60h1M38 61h1M56 67h1M34 68h1M68 72h1M64 77h1"/><path stroke="#2fc5a3" d="M55 15h1M63 23h1M56 24h1M51 31h1M73 33h1M36 35h1M48 35h1M32 37h1M64 39h1M76 40h1M40 43h1M71 46h1M64 51h1M33 53h1M54 53h1M75 57h1M69 59h1M43 60h1M55 62h1M31 65h1M65 66h1M37 67h1M41 67h1M54 69h1M47 70h1M50 72h1M59 73h1M62 77h1"/><path stroke="#30c5a1" d="M36 28h1M79 29h1M74 33h1M37 34h1M67 35h2M70 37h1M38 40h1M36 41h1M50 42h1M48 43h1M37 44h1M64 44h1M70 45h1M51 47h1M75 47h1M69 49h1M35 50h1M66 50h1M59 51h1M69 52h1M57 53h1M76 53h1M36 54h2M46 54h1M79 54h1M50 57h1M36 58h2M38 59h1M39 60h1M35 61h1M78 62h1M58 64h1M70 64h1M69 69h1M47 71h1M63 71h1M43 73h1M60 77h1"/><path stroke="#32c69f" d="M56 17h1M69 23h1M43 34h1M66 35h1M38 37h1M71 37h1M74 37h1M47 38h2M35 39h1M62 40h1M32 41h1M30 43h1M46 43h1M50 43h1M35 45h1M73 45h1M45 46h1M63 46h1M62 47h1M41 49h1M73 49h1M68 50h1M72 50h1M40 54h1M46 56h1M30 57h1M70 58h1M40 59h1M58 59h1M42 60h1M49 60h1M77 60h1M55 61h1M38 62h1M57 62h1M55 63h1M36 64h1M57 64h1M59 64h1M63 70h1M59 72h1M59 78h1"/><path stroke="#33c79d" d="M63 21h1M44 25h1M73 29h1M65 39h1M31 42h1M45 43h1M36 45h1M66 46h2M34 48h1M59 48h1M73 48h1M47 50h1M60 51h1M39 52h2M33 55h1M38 56h1M38 57h1M56 57h1M71 58h1M62 60h1M51 61h1M72 62h1M67 72h1M67 73h1M48 74h1M56 77h1"/><path stroke="#35c79b" d="M69 22h1M40 31h1M70 33h1M70 34h1M34 35h1M42 35h1M35 36h1M35 38h1M74 39h1M75 40h1M30 41h1M37 43h1M39 43h1M72 44h1M51 45h1M72 48h1M53 50h1M46 51h1M41 52h1M38 55h1M41 57h1M47 57h1M54 57h1M49 58h1M76 58h1M34 59h1M50 61h1M53 62h1M32 65h1M57 69h1M67 69h1M55 77h1"/><path stroke="#36c899" d="M56 14h1M37 32h1M72 32h1M68 40h1M59 43h1M60 45h1M65 46h1M31 48h1M70 48h1M44 51h1M38 52h1M30 53h1M37 53h1M72 53h1M56 54h1M77 54h1M37 55h1M41 56h1M45 57h1M63 60h1M42 61h1M33 62h2M61 65h1M66 65h1M67 67h1M73 67h1M35 69h1M63 74h1M65 76h1"/><path stroke="#38c896" d="M42 20h1M64 24h1M56 30h1M70 30h1M38 33h1M62 33h1M79 34h1M65 37h1M37 40h1M75 45h1M36 46h1M41 47h1M78 47h1M30 51h1M39 51h1M47 51h1M33 54h1M69 55h1M33 56h1M59 56h1M34 57h1M72 58h1M74 58h1M47 59h1M45 73h1M61 74h1M46 76h1M57 77h1"/><path stroke="#3ac994" d="M67 33h1M44 34h1M47 34h1M40 35h1M39 37h1M62 37h1M38 39h1M72 39h1M72 43h1M77 44h1M30 46h1M32 46h1M30 48h1M42 50h1M34 53h1M63 53h1M59 54h1M59 57h1M74 57h1M64 58h1M63 59h1M78 59h1M34 61h1M59 61h1M40 63h1M59 63h1M43 64h1M42 66h1M36 67h1M46 69h1M59 69h1M61 70h1M59 77h1"/><path stroke="#3cc992" d="M38 28h1M74 30h1M65 34h1M74 40h1M43 46h1M72 46h1M47 48h1M65 50h1M64 53h1M49 56h1M37 57h1M62 58h1M32 60h1M51 60h1M49 61h1M36 62h1M74 62h1M43 63h1M38 66h1M43 69h1M68 74h1M53 76h1M49 79h1M58 79h1"/><path stroke="#3eca90" d="M74 31h1M38 32h1M73 41h1M44 43h1M34 45h1M40 47h1M47 47h1M45 51h1M78 54h1M76 57h1M45 58h1M72 59h1M54 60h1M39 64h1M66 64h1M59 66h1M61 66h1M39 68h1M48 75h1M60 75h1"/><path stroke="#40ca8d" d="M44 35h1M72 36h1M76 39h1M66 44h1M32 47h1M61 49h1M57 51h1M69 54h1M46 59h1M59 59h1M31 62h1M58 62h1M53 64h1M77 64h1M71 65h1M37 71h1M66 73h1"/><path stroke="#42ca8b" d="M72 34h1M31 41h1M61 42h1M30 47h1M70 49h1M45 50h1M75 51h1M41 53h1M41 54h1M44 54h1M63 54h1M40 55h1M72 57h1M42 59h1M53 60h1M31 61h1M54 61h1M51 62h1M34 69h1M46 73h1M55 78h1"/><path stroke="#45cb89" d="M33 35h1M64 38h1M72 38h1M63 41h1M75 41h1M68 44h1M68 49h1M41 51h1M47 54h1M41 55h1M58 56h1M31 60h1M77 62h1M53 63h1M68 66h1M59 67h1M42 73h1M67 74h1M45 77h1"/><path stroke="#48cb86" d="M73 28h1M40 29h1M35 32h1M36 34h1M33 38h1M72 40h1M47 44h1M31 45h1M62 46h1M77 49h1M44 50h1M69 51h1M72 56h1M52 57h1M55 57h1M45 59h1M37 60h1M32 62h1M68 69h1M69 72h1M46 74h1M46 75h1M51 75h1M62 75h1"/><path stroke="#4bcb84" d="M54 18h1M72 30h1M68 33h1M32 38h1M69 42h1M62 43h1M43 50h1M69 50h1M71 50h1M40 53h1M47 56h1M35 58h1M40 62h1M52 64h1M56 66h1M43 67h1"/><path stroke="#4ecc81" d="M32 36h1M69 36h1M33 39h1M84 40h1M60 42h1M77 42h1M40 44h1M68 48h1M71 49h1M33 50h1M61 58h1M68 58h1M77 61h1M58 65h1M38 67h1M35 68h1M46 72h1"/><path stroke="#51cc7f" d="M46 34h1M73 34h1M30 44h1M46 44h1M54 45h1M69 46h1M69 47h1M60 48h1M66 49h1M31 51h1M36 59h1M72 61h1M67 63h1M46 70h1M52 72h1M60 73h1M69 73h1M40 74h1M50 79h1"/><path stroke="#54cc7c" d="M38 34h1M40 34h3M62 36h1M68 36h1M48 40h1M63 45h1M38 46h1M64 47h1M47 49h1M66 51h1M36 56h1M56 60h1M63 61h1M61 63h1M60 68h1M41 72h1M56 78h1"/><path stroke="#57cc7a" d="M67 32h1M62 39h1M33 40h1M41 48h1M39 54h1M57 54h1M34 58h1M69 58h1M32 59h1M44 64h1M58 69h1M49 77h1M61 77h1"/><path stroke="#5acc77" d="M33 37h1M74 42h1M69 48h1M82 50h1M40 51h1M70 53h1M79 58h1M50 63h1M56 63h1M47 69h1M50 71h1M55 71h1"/><path stroke="#5ecc74" d="M36 32h1M72 33h1M73 40h1M44 44h1M59 44h1M72 45h1M77 59h1M57 76h1"/><path stroke="#61cd72" d="M70 32h1M42 33h1M45 35h1M31 40h1M47 41h1M62 45h1M35 48h1M62 50h1M64 50h1M48 52h1M60 55h1M52 56h1M56 56h1M36 57h1M45 61h1M37 70h1"/><path stroke="#64cd6f" d="M41 32h1M74 34h1M62 38h1M63 43h1M57 55h1M55 59h1M45 70h1"/><path stroke="#67cd6c" d="M40 30h1M73 31h1M43 36h1M63 40h1M52 43h1M59 47h1M70 50h1M53 57h1M73 59h1M54 67h1M51 70h1M56 71h1M54 76h1"/><path stroke="#6bcd69" d="M36 36h1M60 50h1M38 54h1M57 63h1M50 65h1M44 70h1M48 71h1M53 71h1"/><path stroke="#6ecd66" d="M44 26h1M71 32h1M34 37h1M34 38h1M43 43h1M46 46h1M37 47h1M51 56h1"/><path stroke="#72cd64" d="M72 35h1M31 39h1M65 42h1M76 45h1M66 47h1M42 54h1M66 55h1M58 68h1M49 71h1M49 76h1M50 77h1"/><path stroke="#76cc61" d="M84 42h1M57 45h1M52 54h1M30 56h1M46 60h1M55 67h1M51 71h1"/><path stroke="#79cc5e" d="M67 20h1M55 45h1M30 55h1M31 58h1M50 62h1M44 67h1M37 68h1M47 75h1"/><path stroke="#7dcc5b" d="M68 34h1M32 39h1M74 41h1M76 44h1M42 51h1M52 71h1M43 74h1"/><path stroke="#81cc59" d="M63 22h1M35 37h1M60 44h1M50 55h1M48 56h1M49 75h1"/><path stroke="#84cc56" d="M74 43h1M45 44h1M53 54h1M54 71h1M38 72h1"/><path stroke="#88cb53" d="M48 44h1M50 44h1M51 55h1M64 55h1M44 73h1"/><path stroke="#8bcb51" d="M40 33h1M33 36h1M45 68h1"/><path stroke="#8fcb4e" d="M61 46h1M58 53h1M30 54h1M78 57h1M45 62h1M53 72h1"/><path stroke="#93ca4b" d="M80 40h1M68 42h1M47 46h1M52 58h1M53 67h1"/><path stroke="#96ca48" d="M58 45h1M50 56h1M49 57h1M52 62h1M51 64h1M46 67h1"/><path stroke="#9ac946" d="M41 24h1M56 45h1M38 51h1M56 65h1M43 71h1"/><path stroke="#9dc943" d="M63 37h1M44 66h1M54 66h1"/><path stroke="#a1c840" d="M35 35h1M46 57h1"/><path stroke="#a4c83e" d="M58 44h1M59 74h1M47 76h1"/><path stroke="#a7c73c" d="M52 55h1"/><path stroke="#abc739" d="M59 45h1"/><path stroke="#aec637" d="M48 45h1"/><path stroke="#b1c635" d="M41 22h1M66 45h1M54 65h1M53 70h1"/><path stroke="#b5c533" d="M54 55h1M42 74h1"/><path stroke="#b8c431" d="M45 22h1M46 55h1"/><path stroke="#bbc42f" d="M53 56h1"/><path stroke="#bec32e" d="M55 44h1M50 64h1M55 64h1M53 73h1"/><path stroke="#c1c32c" d="M59 46h1M55 56h1M46 61h1M45 65h1M51 69h1M53 69h1M56 75h1"/><path stroke="#c5c22a" d="M44 63h1"/><path stroke="#c8c129" d="M52 28h1M52 44h1M49 62h1M44 65h1M52 65h1M52 66h1M49 69h1"/><path stroke="#cac129" d="M68 21h1M45 23h1M55 54h1"/><path stroke="#d0bf27" d="M65 20h1M43 55h1M48 70h2"/><path stroke="#d3bf27" d="M47 36h1"/><path stroke="#d6be28" d="M53 55h1M41 74h1"/><path stroke="#d9be28" d="M47 61h1M50 69h1"/><path stroke="#dbbd29" d="M53 44h1M60 49h1M52 70h1"/><path stroke="#debd29" d="M59 49h1M41 75h1"/><path stroke="#e0bc2b" d="M56 44h1M59 52h1M47 63h1M56 76h1"/><path stroke="#e3bc2c" d="M57 44h1M55 66h1M52 67h1M48 68h1"/><path stroke="#e5bb2d" d="M52 22h1M46 63h1M49 64h1M51 65h1M47 68h1"/><path stroke="#e8bb2f" d="M41 45h1"/><path stroke="#eaba31" d="M66 20h1M59 50h1M54 54h1M75 61h1M53 65h1"/><path stroke="#ecba33" d="M44 21h1M51 66h1"/><path stroke="#f1ba37" d="M50 68h1M52 68h1"/><path stroke="#f3ba38" d="M51 44h1M54 44h1M54 56h1M53 68h1M55 76h1"/><path stroke="#f7ba3c" d="M42 21h1M51 68h1"/><path stroke="#f9bb3d" d="M54 64h1M49 65h1"/><path stroke="#fcbc3d" d="M58 22h1M49 63h1"/><path stroke="#fdbd3d" d="M56 55h1M47 66h1M56 74h1"/><path stroke="#febe3c" d="M67 24h1M58 48h1M55 55h1M51 67h1"/><path stroke="#fec03b" d="M42 75h1"/><path stroke="#fec13a" d="M48 61h1M54 72h1"/><path stroke="#fec239" d="M48 62h1M45 64h1M50 70h1"/><path stroke="#fec438" d="M66 24h1"/><path stroke="#fec537" d="M44 24h1M34 36h1M53 66h1"/><path stroke="#fec735" d="M46 68h1"/><path stroke="#fec834" d="M43 22h1M49 44h1"/><path stroke="#feca33" d="M41 23h1M49 67h1"/><path stroke="#fdcd32" d="M47 65h1"/><path stroke="#fcce31" d="M72 64h1"/><path stroke="#fcd030" d="M77 58h1"/><path stroke="#fbd22f" d="M48 64h1"/><path stroke="#fbd32e" d="M43 21h1M65 24h1"/><path stroke="#fad52e" d="M42 24h1M39 31h1M35 55h1M48 69h1"/><path stroke="#f9d62d" d="M64 21h1M48 63h1M46 64h1M50 66h1"/><path stroke="#f9d82c" d="M55 65h1M49 66h1M45 67h1"/><path stroke="#f7db2a" d="M52 69h1"/><path stroke="#f7dd2a" d="M46 62h1"/><path stroke="#f6de29" d="M67 22h1M45 66h1"/><path stroke="#f6e028" d="M47 64h1"/><path stroke="#f5e327" d="M45 63h1"/><path stroke="#f5e626" d="M65 22h1M47 67h1"/><path stroke="#f5e825" d="M43 24h1M48 66h1"/><path stroke="#f5e924" d="M68 23h1M48 76h1"/><path stroke="#f5eb23" d="M43 23h1M50 67h1"/><path stroke="#f5ec22" d="M46 65h1"/><path stroke="#f5ee21" d="M49 68h1"/><path stroke="#f6f11f" d="M46 48h1"/><path stroke="#f6f21e" d="M44 22h1M46 66h1"/><path stroke="#f7f51b" d="M48 65h1"/><path stroke="#f8f619" d="M64 22h1"/><path stroke="#f9fb15" d="M65 21h3M42 22h1M66 22h1M68 22h1M42 23h1M44 23h1M64 23h4M47 62h1M48 67h1"/></g></svg>
<svg class="pn" style="left:869px;top:0px;width:378px;height:378px" viewBox="-0.19088 -0.21508 90.19088 90.33457" preserveAspectRatio="none"><rect x="0" y="0" width="90" height="90" fill="#3e26a8"/><g transform="translate(0,0.5)" shape-rendering="crispEdges" fill="none" stroke-width="1"><path stroke="#3e27ab" d="M53 37h1M71 73h1"/><path stroke="#402ab4" d="M69 76h1"/><path stroke="#402bb7" d="M77 87h1M76 88h1M76 89h1M79 89h1"/><path stroke="#412cba" d="M78 85h1M76 87h1M79 87h1M81 87h1M79 88h1M77 89h1"/><path stroke="#412dbd" d="M49 29h1M60 81h1M76 86h1M78 86h3M78 87h1M80 87h1M81 88h1"/><path stroke="#422ebf" d="M65 79h1"/><path stroke="#422fc2" d="M81 54h1M49 80h1M77 86h1M78 89h1"/><path stroke="#4330c5" d="M52 36h1M33 70h1M78 84h1"/><path stroke="#4332ca" d="M30 39h1M70 74h1M67 78h1M60 82h1"/><path stroke="#4433cd" d="M54 36h1M81 52h1M61 82h1"/><path stroke="#4434d0" d="M81 55h1M62 79h1"/><path stroke="#4535d2" d="M48 31h1M74 69h1M63 82h1"/><path stroke="#4537d5" d="M57 41h1"/><path stroke="#4538d7" d="M41 28h1M53 35h1M63 80h1M65 80h1M65 81h1"/><path stroke="#4639d9" d="M56 40h1M56 41h1M29 42h1M64 79h1M76 85h2"/><path stroke="#463adb" d="M76 33h1M28 45h1"/><path stroke="#463bde" d="M41 27h1M32 34h1M78 41h1M75 86h1M75 87h1M75 88h1M75 89h1"/><path stroke="#463ddf" d="M36 26h1M76 35h1M29 61h1M30 64h1M73 71h1M61 80h1"/><path stroke="#473ee1" d="M67 28h1M67 30h1M66 31h1M77 34h1M78 39h1M80 48h1"/><path stroke="#473fe3" d="M47 29h1M30 37h1M71 74h1M66 79h1M60 80h1M61 83h1M79 85h2"/><path stroke="#4741e5" d="M44 30h1M47 31h1M63 31h1M78 38h1M69 75h1"/><path stroke="#4742e6" d="M75 30h1M57 36h1M30 38h1M81 57h1M74 70h1M51 81h1"/><path stroke="#4744e8" d="M67 17h1M53 36h1M58 41h1M72 72h1M38 74h1M44 79h1M80 88h1"/><path stroke="#4745e9" d="M69 27h1M32 35h1M55 41h1M29 56h1M31 66h1M77 67h1M49 81h1M41 83h1"/><path stroke="#4746eb" d="M38 26h1M45 28h1M81 51h1M29 62h1M63 79h1"/><path stroke="#4848ec" d="M40 27h1M67 29h1M48 32h1M48 35h1M24 40h1M31 68h1M39 75h1M68 77h1M62 82h1"/><path stroke="#4849ed" d="M73 26h1M72 27h1M69 31h1M76 37h1M55 39h1M77 39h1M73 69h1M35 72h1M70 75h1M67 77h1"/><path stroke="#484bee" d="M30 65h1M55 81h1"/><path stroke="#484cf0" d="M46 27h1M60 33h1M60 40h1M72 71h1M36 72h1M37 75h1M68 76h1M68 78h1M59 81h1"/><path stroke="#484ef1" d="M70 26h1M69 29h1M33 34h1M49 35h1M49 39h1M29 51h1M29 52h1"/><path stroke="#484ff2" d="M65 26h1M70 27h1M75 28h1M63 29h1M68 30h2M53 34h1M51 35h1M28 52h1M34 72h1M41 76h1M48 79h1M50 80h1M62 80h1"/><path stroke="#4850f3" d="M64 32h1M52 35h1M60 35h1M59 36h1M28 50h1M30 59h1M80 60h1M73 70h1M64 80h1M54 81h1M64 81h1M65 82h1"/><path stroke="#4852f4" d="M68 29h1M52 41h1M53 42h1M77 88h2M81 89h1"/><path stroke="#4853f5" d="M52 12h1M60 34h1M58 36h1M50 37h1M52 37h1M29 43h1M78 64h1M43 78h1"/><path stroke="#4854f6" d="M33 29h1M45 29h1M67 31h1M66 80h1M62 81h1"/><path stroke="#4756f7" d="M37 26h1M27 61h1M72 76h1"/><path stroke="#4757f7" d="M48 23h1M49 24h1M69 26h1M58 31h1M61 32h1M56 38h1M80 49h1M80 59h1M29 66h1"/><path stroke="#4759f8" d="M38 18h1M42 29h1M59 31h1M63 32h1M76 32h1M79 47h1M29 58h1M70 73h1M40 76h1"/><path stroke="#475af9" d="M43 16h1M33 33h1M51 37h1M56 37h1M38 75h1"/><path stroke="#475bfa" d="M60 21h1M64 29h1M76 30h1M62 31h1M56 34h1M58 35h1M51 36h1M28 48h1M31 67h1"/><path stroke="#465dfa" d="M61 12h1M42 27h1M48 27h1M48 30h1M55 33h1M53 38h1M30 41h1M72 74h1"/><path stroke="#465efb" d="M62 25h1M62 26h1M66 29h1M31 36h1M28 51h1M33 71h2M33 72h1M72 75h1M40 77h1"/><path stroke="#4660fb" d="M48 25h1M54 30h1M50 32h1M29 37h1M31 38h1"/><path stroke="#4561fc" d="M64 27h1M66 27h1M46 28h1M61 28h1M28 37h1M25 38h1M28 54h1M61 81h1M52 82h1M62 83h1"/><path stroke="#4562fc" d="M66 16h1M62 24h1M66 26h1M49 30h1M80 47h1M36 74h1M66 78h1M38 80h1M38 81h1M67 81h1M64 82h1"/><path stroke="#4564fd" d="M61 11h1M37 27h1M27 33h1M52 38h1M79 38h1M69 80h1"/><path stroke="#4465fd" d="M64 16h1M47 25h1M28 27h1M45 27h1M74 27h1M81 49h2M75 71h1M39 77h1M42 78h1M53 85h1"/><path stroke="#4367fd" d="M63 17h1M51 18h1M60 22h1M71 26h1M53 31h1M59 32h1M29 40h1M53 40h1M54 42h1M23 50h1M73 52h1M71 75h1M61 79h1M63 81h1M66 82h1"/><path stroke="#4368fe" d="M38 25h1M44 26h1M49 26h1M68 28h1M54 41h1M80 58h1M29 67h1M55 82h1"/><path stroke="#426afe" d="M55 9h1M36 22h1M47 22h1M43 27h1M43 29h1M33 31h1M28 49h1M83 51h1M31 69h1M32 70h1M69 81h1M56 82h1M54 83h1"/><path stroke="#416bfe" d="M78 34h1M72 39h1M28 47h1M29 60h1M30 69h1M77 69h1M38 76h1M55 83h1M52 86h1"/><path stroke="#406dfe" d="M60 19h1M61 22h1M34 23h1M34 25h1M75 25h1M41 26h1M48 26h1M27 30h1M46 30h1M27 32h1M76 34h1M59 35h1M57 42h1M27 45h1M26 65h1M32 68h1M33 69h1M70 76h1M42 83h1M52 84h1M58 86h1"/><path stroke="#3f6eff" d="M53 11h1M55 11h1M71 22h1M47 23h1M61 24h1M63 28h1M65 28h1M53 32h1M57 40h1M78 40h1M79 42h1M26 43h1M81 43h1M26 49h1M78 67h1M36 73h1M57 81h1M65 83h1"/><path stroke="#3e70ff" d="M60 26h1M27 38h1M77 38h1M26 48h1M84 51h1M71 72h1M75 72h1M43 80h1"/><path stroke="#3c71ff" d="M74 20h1M47 21h1M74 21h1M61 25h1M62 28h1M27 31h1M26 39h1M28 44h1M27 67h1M27 70h1M35 73h1M47 80h1"/><path stroke="#3b73fe" d="M30 25h1M56 31h1M78 33h1M80 51h1M30 73h1M44 81h1M57 82h1M46 84h1"/><path stroke="#3974fe" d="M61 17h1M74 19h1M61 23h1M39 26h1M45 26h1M64 26h1M72 26h1M34 31h1M77 36h1M81 37h1M57 39h1M87 54h1M84 55h1M28 57h1M73 76h1M70 80h1"/><path stroke="#3876fe" d="M48 22h1M37 23h1M61 27h1M75 27h1M64 28h1M33 30h1M45 30h1M47 30h1M33 32h1M54 40h1M81 60h1M30 63h1M37 74h1M67 79h1M52 81h1M56 81h1M51 85h1"/><path stroke="#3677fe" d="M53 12h1M61 20h1M48 24h1M39 27h1M43 30h1M78 35h1M77 37h1M85 38h1M80 43h1M22 48h1M25 61h1M79 62h1M79 66h1M76 69h1M68 75h1M39 76h1M33 77h1M43 81h1M53 81h1M41 82h1M58 82h1"/><path stroke="#3579fd" d="M54 13h1M41 19h1M71 25h1M42 26h1M46 31h1M72 33h1M56 35h1M26 37h1M25 39h1M23 47h1M82 47h1M29 64h1M30 67h1M29 69h1M45 81h1M52 83h1"/><path stroke="#337afd" d="M36 25h1M62 30h1M82 48h1M81 50h1M81 58h1M28 65h1M27 66h1M30 66h1M27 68h1M51 82h1M48 83h1"/><path stroke="#327cfc" d="M53 13h1M61 21h1M60 23h1M49 25h1M49 28h1M69 28h1M61 31h1M29 35h1M23 41h1M24 43h1M86 48h1M22 54h1M83 55h1M27 59h1M30 62h1M80 62h1M80 63h1M51 83h1M64 83h1"/><path stroke="#317dfc" d="M60 10h1M60 12h1M45 16h1M49 22h1M64 25h1M35 26h1M34 28h1M44 28h1M65 29h1M81 29h1M42 30h1M49 31h1M84 34h1M79 36h1M59 41h1M28 43h1M22 50h1M26 50h1M20 51h1M88 51h1M84 54h1M28 59h1M81 59h1M25 64h1M31 70h1M35 71h1M35 74h1M43 82h1M50 83h1M55 84h1"/><path stroke="#307ffb" d="M60 8h1M36 19h1M49 27h1M76 31h1M23 42h1M23 43h1M26 45h1M80 45h1M87 49h1M82 50h1M87 50h1M25 51h1M25 60h1M74 62h1M34 70h1M76 70h1M32 71h1M32 74h1M38 78h1M41 78h1M66 81h1"/><path stroke="#2f80fa" d="M57 6h1M61 8h1M54 11h1M56 12h1M59 12h1M40 17h1M38 20h1M48 20h1M69 20h1M31 24h1M63 26h1M46 29h1M28 35h1M59 40h1M45 42h1M22 49h1M27 53h1M76 64h1M28 68h1M40 78h1M39 80h1M59 82h1M56 85h1"/><path stroke="#2f82fa" d="M53 14h1M63 25h1M73 25h1M33 27h1M61 29h1M61 30h1M26 32h1M53 33h1M48 34h1M65 35h1M28 36h1M61 44h1M79 44h1M69 47h1M27 48h1M68 49h1M23 52h1M87 52h1M83 53h1M85 55h1M73 72h1M32 76h1M34 78h1M43 79h1M58 85h1"/><path stroke="#2e83f9" d="M56 9h1M60 9h1M52 17h1M62 19h1M47 20h1M76 22h1M48 29h1M26 34h1M25 46h1M21 49h1M28 53h1M81 53h1M80 54h1M86 56h1M25 59h1M30 60h1M54 60h1M27 62h1M27 64h1M80 64h1M38 77h1M65 78h1M68 81h1M63 83h1M50 85h1"/><path stroke="#2e84f8" d="M52 14h1M35 24h1M47 24h1M60 24h1M30 27h1M47 27h1M48 28h1M57 35h1M82 59h1M26 60h1M80 65h1M28 66h1M76 71h1M33 74h1M67 76h1M42 82h1M47 84h1"/><path stroke="#2e86f8" d="M54 12h1M70 18h1M49 20h1M71 21h1M35 23h1M46 25h1M50 25h1M31 28h1M31 33h1M55 35h1M50 36h1M58 37h1M29 39h1M69 40h1M76 40h1M29 41h1M22 44h1M37 45h1M21 50h1M24 53h1M80 56h1M29 59h1M28 67h1M53 74h1M69 77h1M58 79h1"/><path stroke="#2e87f7" d="M55 8h1M61 13h1M55 14h1M67 16h1M48 18h1M47 19h1M75 23h1M46 26h1M57 28h1M66 28h1M50 33h1M77 33h1M80 37h1M28 39h1M52 40h1M79 43h1M28 46h1M84 50h1M88 52h1M24 63h1M79 68h1M45 72h1M72 73h1M74 73h1M32 75h1M49 83h1M62 84h1"/><path stroke="#2d88f6" d="M60 7h1M45 18h1M60 18h1M39 21h1M40 22h1M75 26h1M79 26h1M38 27h1M77 35h1M26 42h1M81 44h1M24 46h1M27 47h1M80 52h1M27 55h1M82 57h1M28 60h1M79 64h1M77 71h1M34 73h1M76 73h1M36 75h1M40 82h1M49 82h1M53 86h1"/><path stroke="#2d8af5" d="M51 14h1M68 18h1M31 27h1M65 27h1M65 31h1M80 36h1M79 39h1M41 53h1M82 55h1M29 57h1M76 62h1M26 66h1M44 80h1M53 82h1M49 84h1M51 84h1M55 86h1"/><path stroke="#2d8bf4" d="M47 16h1M62 16h1M62 29h1M68 31h1M83 33h1M26 36h2M79 37h1M53 39h1M25 41h1M24 47h1M86 47h1M86 49h1M23 51h1M28 55h1M82 60h1M28 63h1M33 73h1M69 74h1M73 74h1M41 77h1M42 80h1M48 81h1M61 84h1M80 89h1"/><path stroke="#2d8cf3" d="M59 7h1M54 14h1M60 14h1M59 15h1M48 16h1M37 18h1M48 19h1M46 20h1M50 20h1M35 21h1M77 22h1M79 24h1M31 25h2M60 25h1M76 25h1M33 26h1M60 27h1M60 29h1M81 46h1M24 51h1M27 52h1M22 53h1M54 53h1M26 55h1M29 55h1M71 55h1M81 61h1M28 71h1M50 73h1M35 78h1M46 82h1M57 83h1M63 84h1"/><path stroke="#2c8ef2" d="M60 13h1M62 18h1M70 21h1M72 22h1M28 28h1M36 30h1M77 30h1M51 34h1M62 35h1M25 36h1M23 40h1M55 40h1M24 41h1M36 44h1M82 44h1M51 46h1M73 46h1M81 47h1M83 48h1M27 49h1M22 51h1M50 52h1M84 52h1M86 57h1M29 72h1M45 80h2M48 80h1M67 80h1M54 84h1"/><path stroke="#2c8ff1" d="M56 7h1M41 16h1M52 16h1M69 19h1M76 24h1M34 26h1M61 26h1M67 26h2M35 27h1M76 28h1M64 30h1M31 37h1M29 38h1M51 38h1M50 41h1M24 45h1M82 46h1M26 47h1M84 48h1M62 49h1M58 55h1M79 63h1M28 70h2M30 71h1M37 78h1M47 83h1"/><path stroke="#2b90f0" d="M58 6h1M59 20h1M49 23h1M50 24h1M63 24h1M29 26h1M29 28h1M42 28h2M76 29h1M52 32h1M27 46h1M84 46h1M27 51h1M32 52h1M65 53h1M27 57h1M28 58h1M50 61h1M79 61h1M74 65h1M78 65h1M30 68h1M32 69h1M78 69h1M31 71h1M51 73h1M60 79h1M58 81h1"/><path stroke="#2b91ef" d="M58 13h1M60 17h1M70 19h1M35 22h1M76 23h1M47 28h1M64 31h1M29 32h1M82 33h1M31 35h1M80 38h1M21 54h1M57 56h1M26 64h1M29 65h1M76 68h1M34 74h1M47 76h1"/><path stroke="#2a93ee" d="M56 10h1M72 25h1M79 25h1M43 26h1M78 29h1M77 31h1M50 34h1M59 39h1M60 41h1M80 42h1M22 45h1M79 45h1M49 51h1M83 52h1M23 53h1M82 53h1M22 55h1M86 55h1M33 62h1M78 68h1M72 70h1M32 72h1M32 73h1M75 76h1M45 79h1"/><path stroke="#2994ed" d="M61 10h1M59 13h1M42 16h1M37 20h1M75 20h1M33 22h1M50 23h1M63 27h1M79 35h1M29 36h1M71 43h1M84 47h1M23 48h1M55 49h1M56 51h1M35 52h1M41 54h1M85 58h1M74 61h1M25 66h1M74 74h1M49 85h1M59 85h1"/><path stroke="#2895ec" d="M59 6h1M62 17h1M71 19h1M62 21h1M75 21h1M72 23h1M60 28h1M82 29h1M47 32h1M79 32h1M27 34h1M81 38h1M24 39h1M34 44h1M84 49h1M80 50h1M21 53h1M25 53h1M39 54h1M27 60h1M31 74h1M66 76h1M69 79h1M45 82h1M46 83h1M53 83h1M59 83h1M53 84h1M52 85h1M57 86h1"/><path stroke="#2797eb" d="M59 11h1M59 14h1M60 16h1M39 20h1M36 23h1M35 25h1M39 25h1M32 26h1M49 32h1M25 34h1M51 40h1M44 41h1M81 41h2M24 42h1M37 43h1M23 44h1M85 47h1M67 51h1M34 59h1M38 59h1M56 60h1M67 64h1M27 65h1M77 70h1M74 72h1M30 74h1M37 77h1M42 79h1M54 85h1"/><path stroke="#2798ea" d="M51 15h1M49 16h1M47 18h1M62 23h1M74 23h1M36 24h1M44 27h1M29 30h1M31 30h1M74 33h1M55 34h1M64 35h1M55 36h1M76 36h1M80 39h1M28 40h1M30 40h1M81 40h1M67 45h1M75 50h1M86 50h1M73 51h1M82 51h1M61 55h1M87 55h1M27 56h1M85 57h1M25 62h1M28 62h1M57 71h1M68 74h1M36 79h1M53 80h1M68 80h1M58 83h1"/><path stroke="#2699e9" d="M53 16h1M61 16h1M41 17h1M49 18h1M54 28h1M30 29h1M44 29h1M32 33h1M48 33h1M47 35h1M54 35h1M65 36h1M27 37h1M49 37h1M81 39h1M27 41h2M51 41h1M79 41h1M34 54h1M85 54h1M68 57h1M72 57h1M66 69h1M71 71h1M75 75h1M56 78h1M37 79h2M72 79h1"/><path stroke="#269ae8" d="M61 7h1M59 10h1M60 11h1M50 18h1M63 18h1M58 20h1M75 22h1M70 25h1M40 26h1M78 26h1M33 28h1M41 29h1M77 29h1M57 34h1M53 41h1M62 41h1M75 44h1M23 45h1M28 56h1M81 56h1M26 58h1M84 59h1M25 63h1M63 71h1M45 73h1M73 75h1M39 79h1M48 82h1M48 84h1"/><path stroke="#259be8" d="M51 16h1M71 17h1M62 20h1M72 20h1M34 21h1M37 21h1M28 30h1M74 31h1M54 33h1M48 39h1M42 40h1M80 41h1M22 43h1M63 45h1M49 49h1M42 50h1M25 52h1M37 52h1M62 54h1M27 58h1M82 58h1M26 59h1M72 60h1M54 62h1M37 63h1M32 67h1M35 75h1M47 85h1"/><path stroke="#259ce7" d="M55 10h1M55 13h1M45 17h1M63 20h1M76 21h1M38 22h1M78 23h1M31 26h1M47 26h1M79 28h1M38 29h1M45 31h1M42 32h1M84 32h1M46 33h1M61 36h1M51 39h1M56 42h1M56 46h1M58 51h1M39 58h1M80 61h1M26 62h1M81 63h1M78 66h1M79 67h1M29 68h1M57 69h1M37 76h1M34 77h1M42 77h1M70 77h1M68 79h1M37 80h1M50 84h1"/><path stroke="#249ee6" d="M53 15h1M61 15h1M38 21h1M37 25h1M45 25h1M32 27h1M70 28h1M30 31h1M40 31h1M82 35h1M78 36h1M28 38h1M82 45h1M54 48h1M65 48h1M74 49h1M20 50h1M27 50h1M85 50h1M66 58h1M62 59h1M26 61h1M76 65h1M77 68h1M58 69h1M62 70h1M30 72h1M37 73h1M46 74h1M60 74h1M60 84h1"/><path stroke="#249fe6" d="M58 10h1M62 15h1M66 17h1M34 22h1M73 22h1M75 24h1M73 27h1M77 27h1M79 30h1M28 31h1M72 31h1M81 31h1M62 32h1M45 33h1M28 34h1M39 34h1M58 34h1M80 35h1M42 36h1M36 38h1M67 41h1M47 42h1M35 45h1M44 46h1M49 46h1M79 46h1M29 49h1M21 51h1M84 53h1M87 53h1M80 55h1M41 67h1M75 70h1M50 81h1M47 82h1"/><path stroke="#23a0e5" d="M59 9h1M54 10h1M44 17h1M59 18h1M49 19h1M61 19h1M32 24h1M74 24h1M69 25h1M68 27h1M82 28h1M34 30h1M75 31h1M83 31h1M66 32h1M24 37h1M78 37h1M32 45h1M36 45h1M81 45h1M62 47h1M36 51h1M69 51h1M20 52h1M26 52h1M48 53h1M24 59h1M24 61h1M38 62h1M40 64h1M81 64h1M34 69h1M78 72h1M33 75h1M73 77h1M62 85h1"/><path stroke="#22a1e4" d="M46 16h1M61 18h1M64 19h1M40 20h1M72 21h1M33 23h1M38 23h1M33 24h1M37 24h1M33 25h1M30 26h1M71 27h1M81 28h1M70 29h1M66 30h1M28 32h1M30 33h1M68 33h1M80 34h1M38 36h1M41 37h1M54 37h1M24 38h1M60 38h1M74 38h1M58 40h1M80 40h1M55 42h1M68 43h1M23 49h1M83 49h1M83 50h1M82 52h1M82 54h1M44 56h1M54 73h1M71 76h1M71 77h1M70 78h1M47 79h1M54 82h1M45 84h1M57 85h1M51 86h1"/><path stroke="#22a2e4" d="M76 26h1M78 27h1M29 29h1M55 29h1M60 30h1M78 31h1M72 32h1M28 33h1M64 34h1M27 35h1M39 36h1M82 38h1M25 40h1M32 42h1M38 42h1M34 43h1M36 43h1M54 45h1M72 45h1M21 46h1M73 49h1M43 51h1M65 51h1M37 53h2M80 53h1M61 57h1M25 65h1M69 68h1M74 68h1M78 70h1M36 77h1M53 77h1M40 79h1M41 80h1M42 81h1M45 83h1M56 84h1M48 85h1"/><path stroke="#21a3e3" d="M37 19h2M50 22h1M73 23h1M38 24h1M71 24h1M40 25h1M50 26h1M80 27h1M39 28h1M32 31h1M41 35h1M60 37h1M60 39h1M62 39h1M27 40h1M82 40h1M64 43h1M27 44h1M76 45h2M74 46h1M78 47h1M24 48h1M51 48h1M75 48h1M42 49h1M30 50h1M57 51h1M36 54h1M34 56h1M41 56h1M39 61h1M67 62h1M27 69h1M35 76h1M46 76h1M74 76h1M58 80h1M47 81h1"/><path stroke="#20a5e3" d="M58 8h1M58 12h1M56 13h2M54 15h1M60 15h1M48 17h1M43 18h1M40 23h1M34 24h1M28 29h1M34 29h1M79 29h1M83 32h1M61 33h1M68 35h1M38 38h1M37 40h1M71 40h1M83 41h1M70 42h1M77 44h1M40 46h1M83 47h1M57 48h1M74 48h1M36 53h1M47 53h1M49 55h1M67 58h1M65 61h1M26 63h2M53 63h1M57 66h1M60 69h1M43 70h1M64 73h1M73 73h1M77 73h1M70 79h1M55 80h1M41 81h1M59 84h1M60 85h1"/><path stroke="#1fa6e2" d="M62 13h1M61 14h1M50 16h1M59 17h1M72 18h1M39 22h1M78 24h1M45 32h1M52 34h1M46 35h1M81 35h1M26 38h1M79 40h1M26 41h1M37 42h1M68 42h1M48 43h1M26 44h1M21 47h1M81 48h1M72 49h1M32 51h1M41 52h1M74 53h1M73 55h1M31 58h1M32 61h1M24 62h1M41 62h1M78 62h1M67 63h1M81 65h1M65 69h1M49 74h1M74 75h1M52 80h1M39 81h1"/><path stroke="#1ea7e1" d="M60 6h1M56 8h1M39 17h1M46 17h1M70 20h1M80 26h1M34 27h1M36 27h1M59 27h1M82 31h1M32 32h1M68 32h1M65 33h1M79 33h1M46 36h1M49 38h1M26 40h1M45 44h1M85 45h1M50 47h1M67 48h1M85 48h1M57 49h1M74 50h1M86 51h1M21 52h1M53 53h1M27 54h1M46 57h1M73 58h1M46 60h1M59 60h1M59 61h1M26 68h1M31 72h1M62 72h1M31 73h1M56 86h1"/><path stroke="#1da8e0" d="M50 15h1M52 15h1M46 18h1M64 18h1M66 18h2M73 20h1M54 22h1M71 23h1M29 27h1M26 31h1M58 33h2M45 34h1M83 34h1M74 39h1M84 39h1M50 40h1M25 42h1M50 42h1M82 42h1M52 45h1M85 46h1M25 49h1M51 51h1M79 51h1M86 52h1M51 53h1M29 54h1M65 54h1M86 54h1M48 55h1M83 56h1M45 57h1M68 62h1M32 65h1M73 68h1M44 70h1M63 70h1M46 73h2M49 78h1M64 78h1M72 78h1M55 85h1"/><path stroke="#1da9e0" d="M53 17h1M40 19h1M32 30h1M78 30h1M34 32h1M54 34h1M50 35h1M83 35h1M56 39h1M86 42h1M75 45h1M52 47h1M68 47h1M49 48h1M40 51h1M50 51h1M54 51h1M35 56h1M58 56h1M34 58h1M83 58h1M51 59h1M54 59h1M35 61h1M28 64h1M62 69h1M58 70h1M59 80h1"/><path stroke="#1caadf" d="M43 17h1M58 19h1M60 20h1M46 23h1M77 26h1M41 30h1M74 30h1M69 33h1M62 37h1M82 37h1M85 37h1M41 38h1M61 40h1M83 43h1M49 45h1M25 48h1M45 48h1M35 51h1M43 52h1M44 53h1M20 54h1M52 54h1M83 54h1M47 55h1M60 55h1M63 58h1M33 59h1M61 61h1M42 62h1M81 62h1M52 63h1M59 66h1M81 68h1M51 74h1M52 75h1M58 75h1M69 78h1M67 82h1M44 83h1M50 86h1"/><path stroke="#1babde" d="M59 16h1M69 16h1M68 17h1M71 18h1M44 19h1M57 19h1M48 21h1M69 21h1M70 23h1M62 27h1M29 31h1M31 31h1M39 35h1M54 38h1M57 38h2M47 39h1M68 40h1M33 43h1M82 43h1M25 44h1M25 45h1M26 46h1M31 46h1M25 47h1M51 47h1M56 50h1M37 54h1M79 56h1M30 58h1M47 58h1M38 61h1M84 61h1M62 63h1M82 63h1M56 67h1M28 69h1M68 69h1M79 69h2M41 72h1M76 72h1M45 75h1M46 81h1"/><path stroke="#1aacdd" d="M57 7h1M55 15h1M50 19h1M56 19h1M59 19h1M30 28h1M82 30h1M79 31h1M43 32h1M77 32h1M34 33h1M52 33h1M82 36h1M84 37h1M38 39h1M70 39h1M32 41h1M48 42h1M53 43h1M57 43h1M51 45h1M22 46h1M37 46h1M55 46h1M61 46h1M39 47h1M75 49h1M31 50h1M41 50h1M55 52h1M56 53h1M84 56h1M53 57h1M70 57h1M83 59h1M41 60h1M31 64h1M68 67h1M33 68h1M78 71h1M75 74h1M33 76h1M61 77h1M66 77h1M55 78h1M56 83h1"/><path stroke="#19addb" d="M63 16h1M51 17h1M46 19h1M36 21h1M62 22h1M80 25h1M80 29h1M80 30h1M55 31h1M80 32h1M47 33h1M63 34h1M65 34h1M37 35h1M44 35h1M48 38h1M55 38h1M74 40h1M43 41h1M73 41h1M39 42h1M59 42h1M62 44h1M38 45h1M21 48h1M36 50h1M40 50h1M24 52h1M61 52h1M40 53h1M20 55h1M41 59h1M84 60h1M51 61h1M40 62h1M66 65h1M59 67h1M47 74h1M34 76h1"/><path stroke="#17aeda" d="M49 17h1M64 17h1M78 25h1M44 31h1M51 33h1M82 34h1M34 35h1M45 35h1M59 38h1M70 38h1M69 39h1M27 43h1M31 43h1M31 44h1M45 45h1M68 45h1M66 48h1M85 49h1M61 50h1M64 50h1M78 50h1M85 51h1M42 53h1M50 59h1M83 60h1M58 62h1M40 65h1M33 67h1M58 71h1M56 79h1"/><path stroke="#15afd9" d="M59 8h1M62 14h1M44 18h1M68 19h1M35 20h1M41 25h1M55 26h1M50 27h1M40 28h1M56 33h1M50 39h1M55 43h1M47 44h1M80 44h1M65 49h1M50 50h1M65 50h1M72 50h1M64 51h1M87 51h1M33 52h1M58 52h1M51 57h1M63 61h1M63 62h1M29 63h1M78 63h1M62 64h1M67 65h1M79 65h1M67 66h1M81 66h1M75 67h1M43 71h1M66 71h1M77 72h1M65 73h1M75 73h1M36 76h1M52 76h1M35 77h1M52 78h1"/><path stroke="#14b0d8" d="M42 18h1M63 19h1M41 20h1M50 21h1M35 31h1M50 31h1M57 37h1M83 37h1M36 42h1M52 42h1M69 42h1M85 42h1M61 45h2M23 46h1M83 46h1M53 47h2M52 51h1M51 52h1M31 53h1M23 54h1M67 56h1M49 57h1M54 57h1M25 58h1M24 60h1M75 61h1M77 61h1M51 62h2M63 63h1M72 67h1M60 72h1M60 78h1"/><path stroke="#12b1d6" d="M42 19h1M83 30h1M44 32h1M60 32h1M73 32h1M81 33h1M31 34h1M74 34h1M32 36h1M42 38h1M43 39h1M67 39h1M27 42h1M56 43h1M32 44h1M72 44h1M51 49h1M33 50h1M55 50h1M32 53h1M73 53h1M59 54h1M41 57h1M57 57h1M45 58h2M66 61h1M73 61h1M55 62h1M72 64h1M62 66h1M56 68h1M44 69h1M40 71h1M44 73h1M57 76h1"/><path stroke="#10b2d5" d="M58 14h1M72 19h1M39 23h1M77 23h1M81 26h1M59 28h1M39 30h1M60 36h1M64 36h1M81 36h1M35 37h1M39 37h1M76 38h1M64 40h1M66 40h1M47 41h1M85 41h1M58 42h1M41 44h1M41 47h1M74 47h1M52 48h1M40 49h1M58 49h1M63 49h1M41 51h1M85 52h1M86 53h1M40 55h1M32 56h1M39 56h1M46 56h1M64 56h1M32 57h1M37 57h1M65 59h1M32 60h1M34 60h1M64 60h1M79 60h1M41 61h1M76 61h1M77 62h1M65 63h1M66 66h1M76 67h1M81 67h1M62 68h1M71 69h1M44 72h1M64 72h1M78 73h1M57 79h1"/><path stroke="#0db3d4" d="M65 18h1M51 19h1M52 20h1M39 24h1M74 26h1M55 27h1M57 27h1M72 28h1M80 28h1M75 29h1M38 33h1M75 33h1M29 34h1M69 34h1M63 35h1M73 36h1M66 38h1M46 40h1M83 40h1M62 42h1M65 42h1M67 46h1M70 47h1M38 48h1M22 52h1M34 52h1M74 52h1M70 53h1M38 54h1M47 54h1M61 54h1M75 54h1M37 55h1M46 55h1M33 56h1M74 59h1M58 60h1M83 61h1M72 62h1M83 62h1M31 63h1M59 63h1M64 63h1M39 69h1M45 70h1M57 70h1M68 71h1M67 74h1M43 75h1M59 76h1M64 77h1M44 78h1M41 79h1M51 80h1"/><path stroke="#0bb3d2" d="M58 11h1M56 26h1M65 30h1M37 31h1M60 31h1M31 32h1M38 32h1M75 32h1M43 33h1M41 36h1M25 37h1M40 39h1M69 41h1M84 41h1M60 42h1M47 43h1M70 43h1M52 49h1M77 49h1M60 51h1M26 53h1M58 53h1M85 53h1M24 54h1M35 54h1M72 55h1M40 58h1M35 59h1M60 59h1M41 63h1M76 66h1M55 68h1M58 68h1M70 68h1M72 69h1M59 79h1"/><path stroke="#08b4d1" d="M69 17h1M46 24h1M31 29h1M30 32h1M47 37h1M39 39h1M71 39h1M39 41h1M71 42h1M69 44h1M44 45h1M50 46h1M62 46h1M32 47h1M73 47h1M53 49h1M53 50h1M44 52h1M50 53h1M55 53h1M25 54h1M41 55h1M84 57h1M47 59h1M64 59h1M42 60h1M32 63h1M34 63h1M77 64h1M69 69h1M69 71h1M61 72h1M57 73h1M69 73h1M67 75h1M58 76h1M65 76h1M60 77h1"/><path stroke="#06b5cf" d="M57 12h1M66 19h1M36 20h1M37 28h1M35 30h1M78 32h1M83 36h1M59 37h1M67 37h1M63 40h1M36 41h1M38 41h1M40 43h1M39 44h1M43 44h1M71 46h1M42 47h1M62 48h1M55 51h1M45 52h1M60 54h1M79 54h1M50 55h1M74 55h1M40 57h1M41 58h1M64 58h1M68 58h1M32 59h1M63 59h1M28 61h1M64 61h1M57 62h1M55 63h1M37 65h1M65 66h1M67 67h1M36 69h1M67 71h1M46 72h1M50 72h1M52 73h1M56 75h1M72 77h1M36 78h1M40 81h1"/><path stroke="#05b6ce" d="M52 13h1M58 21h1M81 27h1M71 28h1M78 28h1M36 29h1M35 32h1M80 33h1M49 34h1M79 34h1M71 35h1M44 38h1M50 38h1M69 38h1M37 39h1M85 39h1M73 40h1M72 41h1M66 42h1M68 48h1M77 50h1M47 52h1M43 53h1M45 54h1M71 54h1M43 55h1M69 55h1M43 56h1M48 56h1M34 57h1M77 57h1M71 60h1M73 63h1M75 64h1M73 66h1M26 67h1M71 68h1M79 70h1M63 73h1M66 74h1M76 74h1M61 76h1M74 77h1M71 78h1M73 78h1"/><path stroke="#03b7cc" d="M57 10h1M47 17h1M45 19h1M57 26h1M70 31h1M73 33h1M59 34h1M55 37h1M73 38h1M27 39h1M82 39h1M76 41h1M75 43h1M60 45h1M42 46h1M46 46h1M22 47h1M53 48h1M58 48h1M25 50h1M29 50h1M34 50h1M44 51h1M49 52h1M69 53h1M40 54h1M44 54h1M25 55h1M42 56h1M61 56h1M63 57h1M53 58h1M84 58h1M61 59h1M68 60h1M31 62h1M82 62h1M66 63h1M32 64h1M71 65h1M59 71h1M52 74h1"/><path stroke="#02b7ca" d="M40 21h1M73 21h1M73 24h1M68 25h1M36 28h1M40 30h1M30 34h1M69 36h1M72 40h1M33 42h1M43 43h1M31 45h1M84 45h1M53 46h1M35 48h1M62 50h1M67 50h1M48 52h1M63 53h1M36 55h1M38 55h1M76 55h1M80 57h1M57 58h1M48 59h1M39 63h1M58 63h1M61 63h1M34 65h1M42 72h1M39 73h1M59 75h1M44 76h1M48 77h1M63 77h1M49 79h1"/><path stroke="#01b8c9" d="M65 17h1M69 18h1M37 22h1M67 27h1M50 28h1M56 28h1M40 34h1M61 35h1M42 37h1M32 39h1M64 39h1M42 41h1M65 41h1M68 41h1M51 42h1M25 43h1M86 46h1M61 47h1M24 50h1M79 50h1M46 52h1M64 53h1M74 54h1M67 57h1M71 58h1M31 60h1M43 60h1M57 61h1M62 61h1M36 62h1M53 62h1M42 63h1M69 64h1M58 67h1M80 67h1M64 68h1M75 69h1M29 71h1M41 71h1M48 71h1M66 75h1"/><path stroke="#01b9c7" d="M57 9h1M55 22h1M44 25h1M38 28h1M40 29h1M37 32h1M37 33h1M44 34h1M61 34h1M64 37h1M74 37h1M61 41h1M49 42h1M63 42h1M39 46h1M71 48h1M35 53h1M63 54h1M63 55h1M51 56h1M85 56h1M43 57h1M73 57h1M65 58h1M72 59h1M52 60h1M36 61h1M73 64h1M64 69h1M68 70h1M71 70h1M55 72h1M54 80h1M56 80h1M61 85h1"/><path stroke="#01b9c6" d="M57 11h1M65 19h1M73 19h1M70 22h1M40 24h1M74 29h1M67 32h1M71 32h1M63 33h1M44 36h1M68 39h1M75 42h1M41 43h1M51 43h1M58 43h1M71 44h1M37 47h1M67 47h1M31 49h2M67 49h1M69 49h1M71 52h1M60 53h1M76 53h1M66 56h1M70 56h1M39 57h1M69 57h1M44 59h1M42 61h1M73 62h1M57 63h1M76 63h1M63 65h1M73 65h1M61 66h1M68 68h1M58 73h1M54 75h1M62 76h1M58 77h1M62 78h1"/><path stroke="#02bac4" d="M63 21h1M53 30h1M63 30h1M44 33h1M71 33h1M68 34h1M75 34h1M74 36h1M84 38h1M36 39h1M67 43h1M33 44h1M76 44h1M65 45h1M43 48h1M35 49h1M37 50h1M75 51h1M52 52h1M79 52h1M65 55h1M70 55h1M45 56h1M65 56h1M83 57h1M38 58h1M23 59h1M53 59h1M51 60h1M30 61h1M84 62h1M61 65h1M32 66h1M71 66h1M60 68h1M41 69h1M54 77h1M39 78h1M53 78h1"/><path stroke="#03bbc2" d="M55 18h2M45 20h1M59 22h1M57 29h1M82 32h1M47 34h1M48 36h1M72 36h1M46 37h1M37 38h1M38 40h1M37 41h1M41 41h1M43 42h2M62 43h1M73 43h1M73 44h1M66 45h1M83 45h1M32 46h1M53 51h1M75 53h1M68 54h1M60 56h1M77 56h1M39 59h1M50 60h1M31 61h1M64 62h1M74 63h1M63 64h1M41 65h1M69 65h2M59 68h1M63 72h1M34 75h1M49 75h1M76 75h1M63 76h1M51 79h1"/><path stroke="#05bbc1" d="M39 18h1M58 25h1M38 31h1M35 34h1M62 34h1M75 35h1M56 36h1M58 39h1M76 39h1M83 39h1M48 40h1M62 40h1M61 43h1M72 46h1M35 47h1M32 48h1M44 49h1M70 50h1M74 51h1M36 52h1M65 52h1M70 52h1M26 54h1M38 56h1M54 56h1M76 56h1M52 57h1M66 57h1M74 57h1M55 58h1M79 59h1M70 60h1M43 62h1M67 68h1M56 69h1M62 74h1M64 76h1M43 77h1"/><path stroke="#08bcbf" d="M67 19h1M72 24h1M55 25h1M58 26h1M77 28h1M59 30h1M65 32h1M40 35h1M35 36h1M35 38h1M39 38h1M62 38h1M44 40h1M71 41h1M75 41h1M31 42h1M67 42h1M71 45h1M74 45h1M33 46h1M41 46h1M31 48h1M46 49h1M56 49h1M35 50h1M56 52h1M78 53h1M44 55h1M75 59h1M36 60h1M46 61h1M39 62h1M74 64h1M38 65h1M55 67h1M60 67h1M62 67h1M65 67h1M63 68h1M60 70h1M70 71h1M42 73h1M55 73h1M61 74h1M61 75h1M51 77h1M71 79h1M57 80h1"/><path stroke="#0abdbd" d="M54 16h1M50 17h1M71 20h1M80 31h1M34 36h1M68 36h1M37 37h1M43 38h1M42 39h1M45 39h1M35 40h2M72 43h1M40 44h1M46 44h1M70 44h1M46 45h1M73 45h1M45 47h1M79 48h1M69 52h1M67 53h1M52 55h1M78 58h2M71 59h1M61 60h1M63 60h1M66 60h1M44 61h1M75 62h1M60 63h1M42 65h1M72 66h1M42 69h1M38 72h1M47 72h1M55 75h1M65 77h1"/><path stroke="#0dbdbc" d="M58 9h1M39 19h1M56 21h1M73 29h1M46 32h1M43 34h1M70 34h1M75 36h1M45 38h1M61 38h1M54 39h1M73 39h1M65 40h1M34 41h1M34 45h1M50 48h1M69 48h1M45 49h1M79 49h1M57 50h1M76 50h1M39 51h1M71 51h1M30 52h1M68 52h1M72 53h1M50 54h1M33 55h1M38 57h1M52 59h1M57 59h1M54 61h1M82 65h1M80 66h1M42 67h1M42 68h1M54 69h1M54 79h1"/><path stroke="#10beba" d="M42 17h1M55 19h1M70 30h1M72 30h1M81 30h1M73 31h1M29 33h1M41 33h1M49 33h1M41 34h1M46 38h1M71 38h1M75 38h1M28 42h1M84 42h1M38 43h1M46 43h1M52 43h1M67 44h1M69 45h1M35 46h2M52 46h1M36 47h1M44 47h1M24 49h1M41 49h1M45 51h1M40 52h1M62 53h1M64 54h1M31 56h1M44 57h1M59 57h1M51 58h2M45 60h1M82 61h1M34 64h1M59 64h2M66 64h1M31 65h1M73 67h1M36 68h1M61 68h1M70 69h1M64 70h1M47 71h1M41 73h1M59 73h1M67 73h1M57 78h1"/><path stroke="#13beb8" d="M52 18h1M77 24h1M58 30h1M64 33h1M70 33h1M34 40h1M61 42h1M85 43h1M37 44h1M85 44h1M63 46h1M44 48h1M73 48h1M54 50h1M37 51h1M53 52h1M60 52h1M29 53h1M33 53h1M32 54h1M46 54h1M67 54h1M69 54h1M26 56h1M69 56h1M32 58h1M61 58h1M35 60h1M44 60h1M32 62h1M34 62h1M66 62h1M68 63h1M68 64h1M70 64h1M68 65h1M55 70h1M65 71h1M59 72h1M64 74h1M46 75h1M47 77h1M48 78h1"/><path stroke="#17bfb6" d="M57 20h1M74 28h1M69 32h1M36 33h1M38 34h1M73 34h1M67 35h1M69 35h1M65 38h1M47 40h1M77 40h1M33 41h1M43 46h1M69 46h1M56 48h1M66 50h1M54 52h1M46 53h1M52 53h1M59 53h1M42 54h1M51 55h1M56 58h1M55 61h1M71 62h1M41 64h1M70 66h1M43 67h1M61 67h1M70 67h1M40 68h1M67 70h1M60 71h1M74 71h1M54 76h1"/><path stroke="#1ac0b5" d="M55 12h1M40 18h1M43 25h1M76 27h1M37 29h1M56 29h1M36 31h1M36 32h1M26 35h1M43 37h2M48 37h1M64 38h1M35 39h1M83 42h1M39 43h1M54 46h1M57 46h1M76 46h1M36 48h1M63 48h1M51 50h1M31 51h1M43 54h1M77 54h1M21 55h1M32 55h1M34 55h1M66 55h1M26 57h1M48 57h1M60 58h1M74 58h1M67 59h1M78 59h1M72 61h1M54 63h1M60 65h1M37 66h1M68 66h1M63 67h1M71 67h1M44 68h1M38 69h1M59 70h1M58 72h1M68 72h1M54 78h1"/><path stroke="#1dc0b3" d="M74 22h1M71 30h1M56 32h1M63 36h1M40 37h1M78 43h1M86 43h1M56 47h1M58 47h1M78 48h1M60 50h1M62 51h1M62 52h1M77 53h1M24 55h1M78 55h1M78 56h1M75 58h1M53 60h1M64 65h1M64 66h1M69 67h1M35 68h1M66 68h1M80 68h1M67 69h1M46 71h1M64 71h1M49 73h1M60 75h1"/><path stroke="#20c1b1" d="M58 18h1M42 25h1M58 28h1M39 29h1M30 36h1M47 38h1M40 40h1M49 41h1M63 41h1M40 42h1M72 42h1M42 43h1M63 43h1M42 44h1M68 46h1M72 47h1M33 49h1M57 54h1M47 57h1M43 58h1M58 58h1M62 58h1M58 59h1M66 59h1M73 60h1M76 60h1M70 62h1M61 64h1M43 66h1M69 66h1M57 67h1M66 67h1M47 70h1M61 70h1M66 70h1M65 72h1M54 74h1M65 74h1M44 75h1"/><path stroke="#22c1af" d="M70 24h1M74 25h1M59 26h1M42 31h1M74 32h1M40 33h1M41 39h1M33 40h1M48 41h1M41 42h1M78 42h1M78 44h1M43 45h1M75 46h1M48 48h1M38 50h1M45 50h1M73 50h1M78 54h1M68 55h1M68 56h1M31 57h1M72 58h1M36 59h1M37 60h1M71 61h1M41 68h1M44 71h1M56 73h1M47 75h1"/><path stroke="#25c2ae" d="M56 11h1M66 25h1M56 27h1M35 28h1M73 28h1M52 30h1M56 30h1M57 33h1M66 34h1M71 34h1M30 35h1M43 35h1M63 38h1M72 38h1M59 43h1M83 44h1M70 46h1M64 47h1M34 49h1M70 49h1M42 52h1M70 54h1M36 57h1M65 57h1M69 58h1M59 59h1M77 60h1M58 61h1M78 61h1M58 64h1M41 66h1M56 70h1M48 73h1M49 77h1M61 78h1M53 79h1"/><path stroke="#27c2ac" d="M68 20h1M57 21h1M35 29h1M50 29h1M53 29h1M38 30h1M69 37h1M63 39h1M75 40h1M34 42h1M73 42h1M84 43h1M65 46h1M76 48h1M58 50h1M72 51h1M35 55h1M72 56h1M64 57h1M78 60h1M37 61h1M53 61h1M69 61h1M59 65h1M39 66h1M68 73h1M44 74h1M48 74h1M40 75h1"/><path stroke="#29c3aa" d="M57 18h1M32 29h1M71 29h1M33 35h1M66 36h1M63 37h1M32 40h1M70 41h1M49 43h1M66 43h1M74 43h1M77 43h1M55 45h1M48 46h1M64 46h1M55 47h1M43 49h1M64 49h1M46 51h2M31 52h1M58 54h1M40 56h1M50 57h1M78 57h1M33 58h1M54 58h1M55 59h1M34 61h1M60 61h1M70 61h1M35 63h1M65 64h1M39 65h1M42 66h1M56 66h1M45 71h1M62 71h1M45 74h1M44 77h1M52 77h1M57 77h1"/><path stroke="#2bc3a8" d="M58 16h1M54 20h1M49 21h1M59 24h1M69 24h1M54 27h1M39 31h1M37 36h1M45 36h1M61 39h1M70 45h1M49 47h1M39 49h1M50 49h1M61 53h1M33 54h1M31 55h1M79 55h1M63 56h1M42 57h1M55 57h1M44 58h1M68 59h1M70 59h1M73 59h1M60 60h1M56 61h1M62 62h1M36 63h1M77 66h1M59 69h1M61 69h1M35 70h1M43 72h1M57 72h1M55 77h1M59 78h1M44 82h1"/><path stroke="#2cc4a6" d="M52 19h1M43 31h1M43 36h1M49 40h1M77 41h1M76 42h1M74 44h1M78 45h1M48 47h1M66 47h1M71 47h1M41 48h1M71 49h1M39 50h1M77 52h1M48 54h1M49 60h1M61 62h1M69 62h1M70 63h1M38 64h1M57 64h1M82 64h1M57 65h1M63 66h1M63 69h1M51 72h1M65 75h1M42 76h1"/><path stroke="#2ec4a4" d="M57 8h1M41 18h1M59 21h1M37 30h1M71 36h1M52 39h1M46 42h1M32 43h1M65 43h1M35 44h1M64 45h1M29 47h1M40 47h1M33 48h1M43 50h1M52 50h1M66 54h1M64 55h1M47 56h1M71 56h1M73 56h1M56 59h1M69 59h1M55 60h1M67 60h1M56 62h1M34 66h1M60 66h1M42 70h1M61 71h1M48 75h1"/><path stroke="#2fc5a3" d="M57 17h1M55 20h1M67 33h1M42 34h1M81 34h1M75 39h1M43 40h1M46 41h1M38 44h1M64 44h1M34 46h1M48 51h1M57 52h1M76 52h1M66 53h1M67 55h1M77 55h1M36 56h1M75 57h1M69 60h1M47 61h1M51 63h1M77 65h1M58 66h1M62 73h1M55 74h1M57 74h1M45 78h1"/><path stroke="#30c5a1" d="M44 20h1M32 28h1M39 32h1M67 34h1M70 37h1M70 40h1M84 40h1M63 44h1M57 45h1M33 47h1M26 51h1M30 53h1M49 56h1M62 57h1M37 58h1M46 59h1M65 65h1M33 66h1M64 67h1M75 68h1M70 72h1M45 76h1M50 76h1"/><path stroke="#32c69f" d="M51 27h1M30 30h1M58 32h1M38 37h1M40 38h1M31 41h1M45 41h1M64 41h1M44 44h1M66 44h1M66 46h1M75 47h1M46 48h1M66 49h1M64 52h1M49 54h1M37 59h1M33 60h1M68 61h1M34 68h1M66 73h1M51 75h1M62 75h1M46 79h1"/><path stroke="#33c79d" d="M52 26h1M58 29h1M35 33h1M62 33h1M40 36h1M44 43h2M68 44h1M40 45h1M76 47h1M61 48h1M64 48h1M60 49h1M30 51h1M33 51h2M35 58h1M42 59h1M62 60h1M75 60h1M50 62h1M40 63h1M58 65h1M75 65h1M74 66h1M70 70h1M38 71h1M53 73h1M39 74h1M43 74h1M58 74h1M50 75h1"/><path stroke="#35c79b" d="M55 17h1M70 36h1M46 39h1M39 40h1M67 40h1M64 42h1M74 42h1M29 45h1M80 46h1M34 47h1M61 51h1M53 54h1M55 54h1M25 57h1M33 65h1M39 70h1M41 70h1M39 72h1M66 72h1M56 77h1"/><path stroke="#36c899" d="M56 16h1M53 18h1M54 24h1M55 28h1M72 35h1M84 44h1M36 49h1M48 49h1M72 54h1M39 55h1M57 55h1M59 56h1M23 58h1M42 58h1M77 58h1M44 62h1M64 64h1M37 68h1M45 69h1"/><path stroke="#38c896" d="M42 20h1M52 22h1M59 23h1M41 31h1M40 32h1M41 40h1M35 41h1M29 44h1M39 45h1M37 48h1M55 48h1M76 51h1M78 51h1M30 55h1M59 55h1M62 56h1M30 57h1M59 58h1M40 59h1M75 66h1M47 69h1M53 72h1M60 73h1M50 77h1"/><path stroke="#3ac994" d="M53 20h1M34 34h1M36 37h1M45 37h1M66 37h1M71 37h1M67 38h1M45 40h1M42 48h1M69 50h1M67 52h1M79 53h1M75 56h1M49 58h1M45 59h1M51 78h1"/><path stroke="#3cc992" d="M65 25h1M72 29h1M52 31h1M35 35h1M62 36h1M83 38h1M50 45h1M38 47h1M46 47h1M63 47h1M59 49h1M42 51h1M51 54h1M56 56h1M60 57h1M76 57h1M33 61h1M65 62h1M75 63h1M77 63h1M39 64h1M38 66h1M40 66h1M82 66h1M65 70h1M60 83h1M57 84h1"/><path stroke="#3eca90" d="M54 18h1M51 20h1M53 21h1M40 41h1M38 46h1M45 46h1M34 48h1M54 49h1M76 49h1M78 49h1M45 53h1M45 55h1M47 60h1M43 63h1M38 70h1M49 71h1M41 75h1M63 75h1M53 76h1M52 79h1"/><path stroke="#40ca8d" d="M54 17h1M54 19h1M52 28h1M54 32h1M36 34h1M32 37h1M68 37h1M72 37h2M60 44h1M47 47h1M77 48h1M39 52h1M57 53h1M30 56h1M33 57h1M40 61h1M40 67h1M39 68h1M40 72h1M43 73h1M61 73h1M53 75h1M51 76h1"/><path stroke="#42ca8b" d="M56 14h1M55 23h1M63 23h1M53 26h2M81 32h1M36 35h1M74 35h1M42 42h1M58 46h1M78 46h1M38 49h1M32 50h1M44 50h1M71 53h1M38 60h1M37 64h1M57 68h1M56 74h1"/><path stroke="#45cb89" d="M56 15h1M58 15h1M55 21h1M69 23h1M77 25h1M50 30h1M57 32h1M50 43h1M77 47h1M30 49h1M63 52h1M73 54h1M76 54h1M23 55h1M52 56h1M36 58h1M48 58h1M57 60h1M45 61h1M60 62h1M72 63h1M42 64h1M43 65h1M46 70h1M58 78h1"/><path stroke="#48cb86" d="M54 21h1M57 25h1M59 29h1M42 35h1M34 39h1M42 45h1M46 50h2M39 53h1M31 54h1M50 56h1M31 59h1M71 64h1M38 67h1M40 73h1M59 77h1"/><path stroke="#4bcb84" d="M64 24h1M32 38h1M74 41h1M35 42h1M63 51h1M34 53h1M56 54h1M75 55h1M37 56h1M74 60h1M43 64h1M72 65h1M55 69h1M48 72h1M38 73h1M50 79h1"/><path stroke="#4ecc81" d="M57 16h1M53 23h1M54 31h1M41 32h1M39 33h1M65 39h1M31 47h1M68 53h1M49 59h1M46 62h1M33 64h1M35 65h1M43 69h1M40 74h1M63 74h1M46 77h1"/><path stroke="#51cc7f" d="M46 21h1M57 23h1M54 25h1M76 43h1M29 46h1M70 48h1M43 61h1M47 78h1M50 82h1"/><path stroke="#54cc7c" d="M55 16h1M67 20h1M51 25h1M72 34h1M53 45h1M29 48h1M74 56h1M35 57h1M40 60h1M38 63h1M45 68h1M72 68h1"/><path stroke="#57cc7a" d="M51 23h1M56 25h1M42 33h1M30 45h1M41 45h1M40 48h1M71 57h1M56 63h1M35 64h2M53 64h1M62 65h1M36 66h1M74 67h1M30 70h1M64 75h1M56 76h1M63 78h1"/><path stroke="#5acc77" d="M58 17h1M53 19h1M67 25h1M65 37h1M69 63h1M44 66h1M38 68h1M65 68h1M69 70h1M42 75h1M43 76h1M46 78h1"/><path stroke="#5ecc74" d="M57 14h1M66 20h1M59 25h1M71 31h1M66 39h1M56 45h1M72 48h1M71 50h1M36 71h1M55 71h1M57 75h1"/><path stroke="#61cd72" d="M56 20h1M44 21h1M56 22h1M35 43h1M39 48h1M70 51h1M38 52h1M43 59h1M77 59h1M60 76h1"/><path stroke="#64cd6f" d="M43 20h1M57 22h1M79 27h1M54 43h1M58 45h1M30 54h1M25 56h1M70 58h1M52 72h1M69 72h1"/><path stroke="#67cd6c" d="M57 15h1M64 20h1M54 29h1M70 32h1M37 34h1M68 50h1M49 53h1M35 62h1M56 64h1M51 71h1"/><path stroke="#6bcd69" d="M53 28h1M84 33h1M73 35h1M69 43h1M61 49h1M63 50h1M24 58h1M50 58h1M36 65h1M40 69h1M58 84h1"/><path stroke="#6ecd66" d="M58 27h1M57 30h1M46 34h1M36 36h1M33 38h1M66 52h1M23 56h1M58 57h1M52 64h1M48 70h1M45 77h1"/><path stroke="#72cd64" d="M58 24h1M73 30h1M77 51h1M55 56h1M65 60h1M35 69h1M62 77h1"/><path stroke="#76cc61" d="M34 37h1M57 47h1M66 51h1M78 52h1M21 56h1M53 56h1M71 63h1M37 69h1M40 70h1"/><path stroke="#79cc5e" d="M53 22h1M47 36h1M59 44h1M65 44h1M49 61h1M56 71h1"/><path stroke="#7dcc5b" d="M56 17h1M55 24h1M51 31h1M72 52h1M43 68h1M54 70h1"/><path stroke="#81cc59" d="M45 23h1M51 32h1M66 33h1M77 42h1M48 50h1M37 67h1M46 69h1M50 78h1"/><path stroke="#84cc56" d="M54 23h1M53 25h1M81 42h1M24 44h1M48 44h1M60 47h1M75 52h1M59 74h1"/><path stroke="#88cb53" d="M41 24h1M33 45h1M33 63h1M55 66h1"/><path stroke="#8bcb51" d="M58 7h1M45 21h1M75 37h1M47 46h1M82 56h1M56 65h1M39 67h1M55 79h1"/><path stroke="#8fcb4e" d="M46 22h1M57 24h1M44 39h1M42 55h1M56 57h1M44 63h1M54 68h1M56 72h1"/><path stroke="#93ca4b" d="M68 21h1M58 22h1M31 40h1M60 48h1M53 55h1M39 60h1M59 62h1M34 67h1M44 67h1"/><path stroke="#96ca48" d="M52 27h1M55 30h1M54 71h1"/><path stroke="#9ac946" d="M58 44h1"/><path stroke="#9dc943" d="M68 24h1M60 43h1M30 46h1M56 55h1M76 58h1"/><path stroke="#a1c840" d="M63 22h1M52 29h1M42 74h1"/><path stroke="#a4c83e" d="M68 16h1M51 28h1M55 32h1M23 57h1M67 72h1M50 74h1"/><path stroke="#a7c73c" d="M51 26h1M22 58h1M49 72h1M41 74h1"/><path stroke="#abc739" d="M53 27h1M49 76h1"/><path stroke="#aec637" d="M52 23h1"/><path stroke="#b1c635" d="M45 22h1M51 24h1M51 30h1M60 46h1M37 62h1M47 62h1M37 72h1M54 72h1"/><path stroke="#b5c533" d="M62 55h1"/><path stroke="#b8c431" d="M42 21h1M52 21h1M57 31h1"/><path stroke="#bbc42f" d="M68 51h1M24 57h1M76 59h1M55 76h1"/><path stroke="#bec32e" d="M41 21h1M66 41h1M48 60h1"/><path stroke="#c1c32c" d="M51 22h1M69 22h1M51 29h1M30 43h1M48 61h1M36 67h1"/><path stroke="#c5c22a" d="M58 23h1M47 45h1"/><path stroke="#c8c129" d="M49 36h1M30 42h1M54 55h1M45 62h1"/><path stroke="#cac129" d="M46 67h1M53 68h1"/><path stroke="#cdc028" d="M33 39h1"/><path stroke="#d0bf27" d="M43 19h1M48 62h1M46 68h1"/><path stroke="#d3bf27" d="M66 35h1M49 70h1"/><path stroke="#d6be28" d="M47 48h1M55 55h1"/><path stroke="#d9be28" d="M52 24h1M59 51h1M79 57h1M51 65h1"/><path stroke="#dbbd29" d="M50 64h1"/><path stroke="#debd29" d="M59 48h1M46 63h1M53 70h1"/><path stroke="#e0bc2b" d="M59 46h1M54 64h1M35 67h1"/><path stroke="#e3bc2c" d="M56 23h1M49 50h1"/><path stroke="#e8bb2f" d="M45 24h1M67 61h1M36 70h1M48 76h1"/><path stroke="#eaba31" d="M56 24h1M52 25h1M31 39h1M47 49h1M53 67h1"/><path stroke="#efba35" d="M65 20h1M53 24h1M53 66h1M40 80h1"/><path stroke="#f1ba37" d="M59 50h1M54 67h1M42 71h1"/><path stroke="#f3ba38" d="M68 23h1M43 47h1"/><path stroke="#f5ba3a" d="M51 21h1M65 24h1M48 63h1M50 71h1"/><path stroke="#f7ba3c" d="M34 38h1M30 48h1M59 52h1M49 62h1M44 64h1M52 65h1"/><path stroke="#f9bb3d" d="M52 61h1"/><path stroke="#fabb3d" d="M50 66h1M37 70h1"/><path stroke="#fdbd3d" d="M41 23h1M54 44h1"/><path stroke="#febe3c" d="M43 21h1M67 36h1M33 37h1"/><path stroke="#fec03b" d="M41 22h1M61 37h1M77 46h1"/><path stroke="#fec13a" d="M65 23h1M37 49h1M51 70h1"/><path stroke="#fec438" d="M30 47h1"/><path stroke="#fec537" d="M51 44h1"/><path stroke="#fec735" d="M52 44h1M48 45h1M48 68h1M52 70h1"/><path stroke="#fec834" d="M48 64h1M55 65h1M35 66h1"/><path stroke="#feca33" d="M46 64h1"/><path stroke="#fdcb32" d="M67 21h1M51 64h1M48 69h1"/><path stroke="#fdcd32" d="M38 35h1M68 38h1M55 44h2M45 64h1"/><path stroke="#fcce31" d="M49 44h1M59 45h1M45 65h1M47 67h1M53 69h1"/><path stroke="#fcd030" d="M33 36h1M38 51h1M52 71h1"/><path stroke="#fbd32e" d="M65 22h1"/><path stroke="#fad52e" d="M59 47h1"/><path stroke="#f9d82c" d="M42 24h1"/><path stroke="#f8d92b" d="M47 65h1M52 66h1"/><path stroke="#f7db2a" d="M22 56h1M47 64h1"/><path stroke="#f6de29" d="M45 63h1"/><path stroke="#f6e028" d="M65 47h1"/><path stroke="#f5e128" d="M57 44h1M50 67h1"/><path stroke="#f5e327" d="M55 64h1M50 68h1M50 70h1"/><path stroke="#f5e626" d="M64 22h1M53 44h1"/><path stroke="#f5e924" d="M49 63h1"/><path stroke="#f5eb23" d="M54 66h1"/><path stroke="#f5ec22" d="M44 65h1"/><path stroke="#f5ee21" d="M30 44h1M48 65h1"/><path stroke="#f6ef20" d="M64 21h1M67 22h1M24 56h1M49 68h1M51 69h1"/><path stroke="#f6f21e" d="M46 65h1M51 66h1M49 69h1"/><path stroke="#f8f619" d="M64 23h1M52 68h1"/><path stroke="#f9f916" d="M45 66h1"/><path stroke="#f9fb15" d="M65 21h2M42 22h3M66 22h1M68 22h1M42 23h3M66 23h2M43 24h2M66 24h2M70 35h1M50 44h1M54 54h1M22 57h1M47 63h1M50 63h1M49 64h1M49 65h2M53 65h2M46 66h4M45 67h1M48 67h2M51 67h2M47 68h1M51 68h1M50 69h1M52 69h1M37 71h1M39 71h1M53 71h1"/></g></svg>
<div class="ttl" style="left:29.7px;top:17px;font-size:32.5px;transform:scaleX(0.975)">200 mT</div>
<div class="ttl" style="left:451.8px;top:17px;font-size:32.5px;transform:scaleX(0.975)">21.1 mT</div>
<div class="ttl" style="left:881.3px;top:17px;font-size:32.5px;transform:scaleX(0.975)">2.2 mT</div>
<svg style="position:absolute;left:0;top:0;width:1267px;height:526px;display:block" viewBox="0 0 1267 526"><defs><linearGradient id="pg" x1="0" y1="0" x2="1" y2="0"><stop offset="0.0000" stop-color="#3e26a8"/><stop offset="0.0159" stop-color="#402ab4"/><stop offset="0.0317" stop-color="#422ec0"/><stop offset="0.0476" stop-color="#4332cb"/><stop offset="0.0635" stop-color="#4537d5"/><stop offset="0.0794" stop-color="#463cde"/><stop offset="0.0952" stop-color="#4741e5"/><stop offset="0.1111" stop-color="#4747eb"/><stop offset="0.1270" stop-color="#484df0"/><stop offset="0.1429" stop-color="#4852f4"/><stop offset="0.1587" stop-color="#4758f8"/><stop offset="0.1746" stop-color="#465efb"/><stop offset="0.1905" stop-color="#4563fd"/><stop offset="0.2063" stop-color="#4269fe"/><stop offset="0.2222" stop-color="#3e6fff"/><stop offset="0.2381" stop-color="#3875fe"/><stop offset="0.2540" stop-color="#327cfc"/><stop offset="0.2698" stop-color="#2f81fa"/><stop offset="0.2857" stop-color="#2e87f7"/><stop offset="0.3016" stop-color="#2d8cf3"/><stop offset="0.3175" stop-color="#2b91ef"/><stop offset="0.3333" stop-color="#2797eb"/><stop offset="0.3492" stop-color="#259be8"/><stop offset="0.3651" stop-color="#23a0e5"/><stop offset="0.3810" stop-color="#20a5e3"/><stop offset="0.3968" stop-color="#1ca9df"/><stop offset="0.4127" stop-color="#18addb"/><stop offset="0.4286" stop-color="#12b1d6"/><stop offset="0.4444" stop-color="#08b5d0"/><stop offset="0.4603" stop-color="#01b8ca"/><stop offset="0.4762" stop-color="#02bac3"/><stop offset="0.4921" stop-color="#0bbdbd"/><stop offset="0.5079" stop-color="#19bfb6"/><stop offset="0.5238" stop-color="#24c1ae"/><stop offset="0.5397" stop-color="#2cc4a7"/><stop offset="0.5556" stop-color="#31c69f"/><stop offset="0.5714" stop-color="#37c897"/><stop offset="0.5873" stop-color="#3fca8e"/><stop offset="0.6032" stop-color="#4acb84"/><stop offset="0.6190" stop-color="#57cc7a"/><stop offset="0.6349" stop-color="#64cd6f"/><stop offset="0.6508" stop-color="#72cd64"/><stop offset="0.6667" stop-color="#81cc59"/><stop offset="0.6825" stop-color="#8fcb4e"/><stop offset="0.6984" stop-color="#9dc943"/><stop offset="0.7143" stop-color="#abc739"/><stop offset="0.7302" stop-color="#b9c431"/><stop offset="0.7460" stop-color="#c5c22a"/><stop offset="0.7619" stop-color="#d1bf27"/><stop offset="0.7778" stop-color="#dcbd29"/><stop offset="0.7937" stop-color="#e6bb2d"/><stop offset="0.8095" stop-color="#f0ba36"/><stop offset="0.8254" stop-color="#f8ba3d"/><stop offset="0.8413" stop-color="#febe3c"/><stop offset="0.8571" stop-color="#fec338"/><stop offset="0.8730" stop-color="#fec934"/><stop offset="0.8889" stop-color="#fccf30"/><stop offset="0.9048" stop-color="#fad62d"/><stop offset="0.9206" stop-color="#f7dc2a"/><stop offset="0.9365" stop-color="#f5e327"/><stop offset="0.9524" stop-color="#f5e924"/><stop offset="0.9683" stop-color="#f6ef20"/><stop offset="0.9841" stop-color="#f7f51b"/><stop offset="1.0000" stop-color="#f9fb15"/></linearGradient></defs><rect x="7.30" y="404.50" width="378.30" height="25.10" fill="url(#pg)" stroke="#222" stroke-width="1"/><path d="M82.66 429.60v-4.5" stroke="#222" stroke-width="1" fill="none"/><path d="M158.52 429.60v-4.5" stroke="#222" stroke-width="1" fill="none"/><path d="M234.38 429.60v-4.5" stroke="#222" stroke-width="1" fill="none"/><path d="M310.24 429.60v-4.5" stroke="#222" stroke-width="1" fill="none"/><rect x="435.60" y="405.00" width="375.50" height="25.20" fill="url(#pg)" stroke="#222" stroke-width="1"/><path d="M488.89 430.20v-4.5" stroke="#222" stroke-width="1" fill="none"/><path d="M596.46 430.20v-4.5" stroke="#222" stroke-width="1" fill="none"/><path d="M704.03 430.20v-4.5" stroke="#222" stroke-width="1" fill="none"/><rect x="871.50" y="402.60" width="375.10" height="25.80" fill="url(#pg)" stroke="#222" stroke-width="1"/><path d="M965.02 428.40v-4.5" stroke="#222" stroke-width="1" fill="none"/><path d="M1059.05 428.40v-4.5" stroke="#222" stroke-width="1" fill="none"/><path d="M1153.07 428.40v-4.5" stroke="#222" stroke-width="1" fill="none"/></svg>
<div class="tl" style="left:6.0px;top:442.7px;font-size:27px">0</div><div class="tl" style="left:81.9px;top:442.7px;font-size:27px">100</div><div class="tl" style="left:157.7px;top:442.7px;font-size:27px">200</div><div class="tl" style="left:233.6px;top:442.7px;font-size:27px">300</div><div class="tl" style="left:309.4px;top:442.7px;font-size:27px">400</div><div class="tl" style="left:385.3px;top:442.7px;font-size:27px">500</div>
<div class="xl" style="left:168.9px;top:498.6px;font-size:24.5px;transform:scaleX(1.01)">T<sub>1</sub> (ms)</div>
<div class="tl" style="left:434.3px;top:443.5px;font-size:27px">0</div><div class="tl" style="left:488.1px;top:443.5px;font-size:27px">50</div><div class="tl" style="left:595.7px;top:443.5px;font-size:27px">150</div><div class="tl" style="left:703.2px;top:443.5px;font-size:27px">250</div><div class="tl" style="left:810.8px;top:443.5px;font-size:27px">350</div>
<div class="xl" style="left:575.8px;top:496.1px;font-size:24.5px;transform:scaleX(1.01)">T<sub>1</sub> (ms)</div>
<div class="tl" style="left:870.2px;top:442.1px;font-size:27px">0</div><div class="tl" style="left:964.2px;top:442.1px;font-size:27px">50</div><div class="tl" style="left:1058.2px;top:442.1px;font-size:27px">100</div><div class="tl" style="left:1152.3px;top:442.1px;font-size:27px">150</div><div class="tl" style="left:1246.3px;top:442.1px;font-size:27px">200</div>
<div class="xl" style="left:1030.1px;top:495px;font-size:24.5px;transform:scaleX(1.01)">T<sub>1</sub> (ms)</div>
<div style="position:absolute;left:1265.5px;top:448.3px;width:1.5px;height:13.3px;background:#111"></div>
</body></html>
